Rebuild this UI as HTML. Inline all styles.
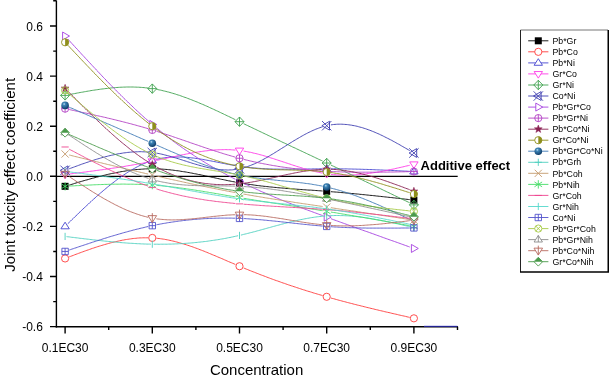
<!DOCTYPE html>
<html><head><meta charset="utf-8"><title>Joint toxicity effect coefficient</title>
<style>
html,body{margin:0;padding:0;background:#fff;}
body{width:609px;height:376px;overflow:hidden;}
svg{display:block;}
text{font-family:"Liberation Sans",Arial,sans-serif;fill:#000;}
</style></head><body>
<svg width="609" height="376" viewBox="0 0 609 376">
<defs><radialGradient id="sph" cx="0.38" cy="0.32" r="0.7"><stop offset="0" stop-color="#c8e4f4"/><stop offset="0.25" stop-color="#3f86b8"/><stop offset="1" stop-color="#0d3a66"/></radialGradient></defs>
<rect width="609" height="376" fill="#fff"/>

<g stroke="#000" stroke-width="1.4" fill="none">
<path d="M56.4 0.5V327.4"/>
<path d="M55.7 326.7H457.9"/>
<path d="M56.4 0.8H53.2M56.4 26.0H50.0M56.4 51.1H53.2M56.4 76.1H50.0M56.4 101.2H53.2M56.4 126.2H50.0M56.4 151.3H53.2M56.4 176.3H50.0M56.4 201.4H53.2M56.4 226.4H50.0M56.4 251.5H53.2M56.4 276.5H50.0M56.4 301.6H53.2M56.4 326.6H50.0"/>
<path d="M65.1 326.7V333.5M108.7 326.7V330.1M152.3 326.7V333.5M195.9 326.7V330.1M239.5 326.7V333.5M283.1 326.7V330.1M326.7 326.7V333.5M370.3 326.7V330.1M413.9 326.7V333.5M457.5 326.7V330.1"/>
</g>
<g font-size="12px" text-anchor="end">
<text x="42.9" y="30.5">0.6</text>
<text x="42.9" y="80.6">0.4</text>
<text x="42.9" y="130.7">0.2</text>
<text x="42.9" y="180.8">0.0</text>
<text x="42.9" y="230.9">-0.2</text>
<text x="42.9" y="281.0">-0.4</text>
<text x="42.9" y="331.1">-0.6</text>
</g>
<g font-size="12px" text-anchor="middle">
<text x="65.1" y="351.6">0.1EC30</text>
<text x="152.3" y="351.6">0.3EC30</text>
<text x="239.5" y="351.6">0.5EC30</text>
<text x="326.7" y="351.6">0.7EC30</text>
<text x="413.9" y="351.6">0.9EC30</text>
</g>
<text font-size="15px" text-anchor="middle" x="256.6" y="375">Concentration</text>
<text font-size="15px" text-anchor="middle" transform="translate(15.4,174.8) rotate(-90)">Joint toxicity effect coefficient</text>
<path d="M56.4 176.3H457.7" stroke="#000" stroke-width="1.3"/>
<g><path d="M69.2 185.1L70.5 184.7L71.9 184.3L73.3 183.9L74.6 183.4L76.0 183.0L77.4 182.6L78.7 182.2L80.1 181.8L81.4 181.4L82.8 181.0L84.2 180.6L85.5 180.2L86.9 179.9L88.3 179.5L89.6 179.1L91.0 178.7L92.3 178.3L93.7 178.0L95.1 177.6L96.4 177.2L97.8 176.9L99.2 176.5L100.5 176.2L101.9 175.9L103.2 175.5L104.6 175.2L106.0 174.9L107.3 174.5L108.7 174.2L110.1 173.9L111.4 173.6L112.8 173.3L114.2 173.1L115.5 172.8L116.9 172.5L118.2 172.2L119.6 172.0L121.0 171.7L122.3 171.5L123.7 171.3L125.1 171.1L126.4 170.8L127.8 170.6L129.1 170.4L130.5 170.3L131.9 170.1L133.2 169.9L134.6 169.8L135.9 169.6L137.3 169.5L138.7 169.4L140.0 169.3L141.4 169.2L142.8 169.1L144.1 169.0L145.5 168.9L146.9 168.9L148.2 168.8M156.4 168.9L157.8 168.9L159.1 169.0L160.5 169.0L161.8 169.1L163.2 169.2L164.6 169.3L165.9 169.4L167.3 169.5L168.7 169.7L170.0 169.8L171.4 170.0L172.7 170.1L174.1 170.3L175.5 170.5L176.8 170.7L178.2 170.8L179.6 171.0L180.9 171.3L182.3 171.5L183.6 171.7L185.0 171.9L186.4 172.1L187.7 172.4L189.1 172.6L190.4 172.9L191.8 173.1L193.2 173.4L194.5 173.7L195.9 173.9L197.3 174.2L198.6 174.5L200.0 174.7L201.4 175.0L202.7 175.3L204.1 175.6L205.4 175.9L206.8 176.2L208.2 176.5L209.5 176.7L210.9 177.0L212.2 177.3L213.6 177.6L215.0 177.9L216.3 178.2L217.7 178.5L219.1 178.8L220.4 179.1L221.8 179.4L223.2 179.6L224.5 179.9L225.9 180.2L227.2 180.5L228.6 180.8L230.0 181.0L231.3 181.3L232.7 181.6L234.1 181.8L235.4 182.1M243.6 183.5L244.9 183.7L246.3 183.9L247.7 184.1L249.0 184.3L250.4 184.5L251.8 184.7L253.1 184.9L254.5 185.1L255.9 185.3L257.2 185.5L258.6 185.6L259.9 185.8L261.3 186.0L262.7 186.1L264.0 186.3L265.4 186.4L266.8 186.6L268.1 186.7L269.5 186.9L270.8 187.0L272.2 187.1L273.6 187.3L274.9 187.4L276.3 187.5L277.7 187.7L279.0 187.8L280.4 187.9L281.7 188.0L283.1 188.1L284.5 188.2L285.8 188.4L287.2 188.5L288.6 188.6L289.9 188.7L291.3 188.8L292.6 188.9L294.0 189.0L295.4 189.1L296.7 189.2L298.1 189.3L299.5 189.4L300.8 189.5L302.2 189.6L303.5 189.7L304.9 189.8L306.3 189.9L307.6 190.0L309.0 190.1L310.4 190.1L311.7 190.2L313.1 190.3L314.4 190.4L315.8 190.5L317.2 190.6L318.5 190.7L319.9 190.8L321.3 190.9L322.6 191.0M330.9 191.7L332.2 191.8L333.6 191.9L335.0 192.0L336.4 192.1L337.8 192.2L339.2 192.3L340.5 192.5L341.9 192.6L343.3 192.7L344.7 192.8L346.1 193.0L347.5 193.1L348.8 193.2L350.2 193.3L351.6 193.5L353.0 193.6L354.4 193.7L355.8 193.9L357.2 194.0L358.5 194.1L359.9 194.3L361.3 194.4L362.7 194.6L364.1 194.7L365.5 194.8L366.8 195.0L368.2 195.1L369.6 195.3L371.0 195.4L372.4 195.5L373.8 195.7L375.1 195.8L376.5 196.0L377.9 196.1L379.3 196.3L380.7 196.4L382.1 196.6L383.4 196.7L384.8 196.9L386.2 197.0L387.6 197.2L389.0 197.3L390.4 197.5L391.8 197.6L393.1 197.8L394.5 197.9L395.9 198.1L397.3 198.2L398.7 198.4L400.1 198.5L401.4 198.7L402.8 198.9L404.2 199.0L405.6 199.2L407.0 199.3L408.4 199.5L409.7 199.6" stroke="#000000" stroke-width="0.9" fill="none"/>
<rect transform="translate(65.1,186.32)" x="-3.5" y="-3.5" width="7" height="7" fill="#000000"/>
<rect transform="translate(152.3,168.79)" x="-3.5" y="-3.5" width="7" height="7" fill="#000000"/>
<rect transform="translate(239.5,182.81)" x="-3.5" y="-3.5" width="7" height="7" fill="#000000"/>
<rect transform="translate(326.7,191.33)" x="-3.5" y="-3.5" width="7" height="7" fill="#000000"/>
<rect transform="translate(413.9,200.1)" x="-3.5" y="-3.5" width="7" height="7" fill="#000000"/>
</g>
<g><path d="M69.2 256.9L70.5 256.4L71.9 255.9L73.3 255.4L74.6 254.8L76.0 254.3L77.4 253.8L78.7 253.3L80.1 252.8L81.4 252.3L82.8 251.8L84.2 251.3L85.5 250.8L86.9 250.3L88.3 249.9L89.6 249.4L91.0 248.9L92.3 248.4L93.7 248.0L95.1 247.5L96.4 247.1L97.8 246.6L99.2 246.2L100.5 245.8L101.9 245.4L103.2 245.0L104.6 244.6L106.0 244.2L107.3 243.8L108.7 243.4L110.1 243.0L111.4 242.7L112.8 242.3L114.2 242.0L115.5 241.7L116.9 241.4L118.2 241.1L119.6 240.8L121.0 240.5L122.3 240.2L123.7 240.0L125.1 239.7L126.4 239.5L127.8 239.3L129.1 239.1L130.5 238.9L131.9 238.7L133.2 238.5L134.6 238.4L135.9 238.3L137.3 238.1L138.7 238.0L140.0 237.9L141.4 237.9L142.8 237.8L144.1 237.8L145.5 237.8L146.9 237.8L148.2 237.8M156.4 238.2L157.8 238.4L159.1 238.5L160.5 238.7L161.8 238.9L163.2 239.1L164.6 239.3L165.9 239.6L167.3 239.8L168.7 240.1L170.0 240.4L171.4 240.7L172.7 241.0L174.1 241.3L175.5 241.7L176.8 242.0L178.2 242.4L179.6 242.8L180.9 243.2L182.3 243.6L183.6 244.0L185.0 244.4L186.4 244.8L187.7 245.3L189.1 245.7L190.4 246.2L191.8 246.6L193.2 247.1L194.5 247.6L195.9 248.1L197.3 248.6L198.6 249.1L200.0 249.7L201.4 250.2L202.7 250.7L204.1 251.2L205.4 251.8L206.8 252.3L208.2 252.9L209.5 253.5L210.9 254.0L212.2 254.6L213.6 255.2L215.0 255.7L216.3 256.3L217.7 256.9L219.1 257.5L220.4 258.0L221.8 258.6L223.2 259.2L224.5 259.8L225.9 260.4L227.2 261.0L228.6 261.6L230.0 262.2L231.3 262.7L232.7 263.3L234.1 263.9L235.4 264.5M243.6 267.9L244.9 268.5L246.3 269.1L247.7 269.6L249.0 270.2L250.4 270.7L251.8 271.3L253.1 271.8L254.5 272.3L255.9 272.9L257.2 273.4L258.6 273.9L259.9 274.5L261.3 275.0L262.7 275.5L264.0 276.0L265.4 276.5L266.8 277.1L268.1 277.6L269.5 278.1L270.8 278.6L272.2 279.1L273.6 279.6L274.9 280.1L276.3 280.6L277.7 281.0L279.0 281.5L280.4 282.0L281.7 282.5L283.1 283.0L284.5 283.4L285.8 283.9L287.2 284.4L288.6 284.9L289.9 285.3L291.3 285.8L292.6 286.2L294.0 286.7L295.4 287.1L296.7 287.6L298.1 288.0L299.5 288.5L300.8 288.9L302.2 289.4L303.5 289.8L304.9 290.2L306.3 290.7L307.6 291.1L309.0 291.5L310.4 291.9L311.7 292.3L313.1 292.8L314.4 293.2L315.8 293.6L317.2 294.0L318.5 294.4L319.9 294.8L321.3 295.2L322.6 295.6M330.9 298.0L332.2 298.4L333.6 298.7L335.0 299.1L336.4 299.5L337.8 299.9L339.2 300.3L340.5 300.6L341.9 301.0L343.3 301.4L344.7 301.7L346.1 302.1L347.5 302.5L348.8 302.8L350.2 303.2L351.6 303.5L353.0 303.9L354.4 304.3L355.8 304.6L357.2 305.0L358.5 305.3L359.9 305.6L361.3 306.0L362.7 306.3L364.1 306.7L365.5 307.0L366.8 307.4L368.2 307.7L369.6 308.0L371.0 308.4L372.4 308.7L373.8 309.0L375.1 309.4L376.5 309.7L377.9 310.0L379.3 310.4L380.7 310.7L382.1 311.0L383.4 311.3L384.8 311.7L386.2 312.0L387.6 312.3L389.0 312.6L390.4 312.9L391.8 313.3L393.1 313.6L394.5 313.9L395.9 314.2L397.3 314.5L398.7 314.9L400.1 315.2L401.4 315.5L402.8 315.8L404.2 316.1L405.6 316.4L407.0 316.8L408.4 317.1L409.7 317.4" stroke="#ff3b3b" stroke-width="0.9" fill="none"/>
<circle transform="translate(65.1,258.46)" r="3.6" stroke="#ff3b3b" stroke-width="0.9" fill="none"/>
<circle transform="translate(152.3,237.92)" r="3.6" stroke="#ff3b3b" stroke-width="0.9" fill="none"/>
<circle transform="translate(239.5,266.23)" r="3.6" stroke="#ff3b3b" stroke-width="0.9" fill="none"/>
<circle transform="translate(326.7,296.79)" r="3.6" stroke="#ff3b3b" stroke-width="0.9" fill="none"/>
<circle transform="translate(413.9,318.33)" r="3.6" stroke="#ff3b3b" stroke-width="0.9" fill="none"/>
</g>
<g><path d="M67.8 223.7L69.2 222.4L70.5 221.1L71.9 219.7L73.3 218.4L74.6 217.1L76.0 215.8L77.4 214.5L78.7 213.1L80.1 211.8L81.4 210.5L82.8 209.2L84.2 207.9L85.5 206.7L86.9 205.4L88.3 204.1L89.6 202.8L91.0 201.6L92.3 200.3L93.7 199.1L95.1 197.9L96.4 196.6L97.8 195.4L99.2 194.2L100.5 193.0L101.9 191.9L103.2 190.7L104.6 189.6L106.0 188.4L107.3 187.3L108.7 186.2L110.1 185.1L111.4 184.0L112.8 182.9L114.2 181.9L115.5 180.8L116.9 179.8L118.2 178.8L119.6 177.8L121.0 176.9L122.3 175.9L123.7 175.0L125.1 174.1L126.4 173.2L127.8 172.3L129.1 171.4L130.5 170.6L131.9 169.8L133.2 169.0L134.6 168.3L135.9 167.5L137.3 166.8L138.7 166.1L140.0 165.4L141.4 164.8L142.8 164.1L144.1 163.5L145.5 163.0L146.9 162.4L148.2 161.9M156.4 159.4L157.8 159.1L159.1 158.8L160.5 158.5L161.8 158.2L163.2 158.0L164.6 157.8L165.9 157.6L167.3 157.5L168.7 157.3L170.0 157.2L171.4 157.1L172.7 157.1L174.1 157.0L175.5 157.0L176.8 157.0L178.2 157.0L179.6 157.0L180.9 157.0L182.3 157.1L183.6 157.1L185.0 157.2L186.4 157.3L187.7 157.4L189.1 157.6L190.4 157.7L191.8 157.9L193.2 158.0L194.5 158.2L195.9 158.4L197.3 158.6L198.6 158.8L200.0 159.0L201.4 159.2L202.7 159.4L204.1 159.7L205.4 159.9L206.8 160.2L208.2 160.4L209.5 160.7L210.9 160.9L212.2 161.2L213.6 161.5L215.0 161.7L216.3 162.0L217.7 162.3L219.1 162.5L220.4 162.8L221.8 163.1L223.2 163.4L224.5 163.6L225.9 163.9L227.2 164.2L228.6 164.4L230.0 164.7L231.3 164.9L232.7 165.2L234.1 165.4L235.4 165.6M243.6 166.9L244.9 167.0L246.3 167.2L247.7 167.4L249.0 167.5L250.4 167.6L251.8 167.8L253.1 167.9L254.5 168.0L255.9 168.1L257.2 168.2L258.6 168.3L259.9 168.4L261.3 168.5L262.7 168.6L264.0 168.7L265.4 168.8L266.8 168.8L268.1 168.9L269.5 168.9L270.8 169.0L272.2 169.0L273.6 169.1L274.9 169.1L276.3 169.1L277.7 169.1L279.0 169.2L280.4 169.2L281.7 169.2L283.1 169.2L284.5 169.2L285.8 169.2L287.2 169.2L288.6 169.2L289.9 169.2L291.3 169.2L292.6 169.2L294.0 169.2L295.4 169.2L296.7 169.2L298.1 169.2L299.5 169.1L300.8 169.1L302.2 169.1L303.5 169.1L304.9 169.1L306.3 169.0L307.6 169.0L309.0 169.0L310.4 169.0L311.7 169.0L313.1 168.9L314.4 168.9L315.8 168.9L317.2 168.9L318.5 168.9L319.9 168.8L321.3 168.8L322.6 168.8M330.9 168.8L332.2 168.8L333.6 168.8L335.0 168.8L336.4 168.8L337.8 168.8L339.2 168.8L340.5 168.8L341.9 168.9L343.3 168.9L344.7 168.9L346.1 168.9L347.5 168.9L348.8 169.0L350.2 169.0L351.6 169.0L353.0 169.1L354.4 169.1L355.8 169.1L357.2 169.2L358.5 169.2L359.9 169.2L361.3 169.3L362.7 169.3L364.1 169.4L365.5 169.4L366.8 169.4L368.2 169.5L369.6 169.5L371.0 169.6L372.4 169.6L373.8 169.7L375.1 169.8L376.5 169.8L377.9 169.9L379.3 169.9L380.7 170.0L382.1 170.0L383.4 170.1L384.8 170.2L386.2 170.2L387.6 170.3L389.0 170.3L390.4 170.4L391.8 170.5L393.1 170.5L394.5 170.6L395.9 170.7L397.3 170.7L398.7 170.8L400.1 170.9L401.4 170.9L402.8 171.0L404.2 171.1L405.6 171.1L407.0 171.2L408.4 171.3L409.7 171.3" stroke="#4545d0" stroke-width="0.9" fill="none"/>
<path transform="translate(65.1,226.4)" d="M0-4.2L4.2 2.4H-4.2Z" stroke="#4545d0" stroke-width="0.9" fill="none"/>
<path transform="translate(152.3,160.52)" d="M0-4.2L4.2 2.4H-4.2Z" stroke="#4545d0" stroke-width="0.9" fill="none"/>
<path transform="translate(239.5,166.28)" d="M0-4.2L4.2 2.4H-4.2Z" stroke="#4545d0" stroke-width="0.9" fill="none"/>
<path transform="translate(326.7,168.79)" d="M0-4.2L4.2 2.4H-4.2Z" stroke="#4545d0" stroke-width="0.9" fill="none"/>
<path transform="translate(413.9,171.54)" d="M0-4.2L4.2 2.4H-4.2Z" stroke="#4545d0" stroke-width="0.9" fill="none"/>
</g>
<g><path d="M69.2 174.0L70.5 173.9L71.9 173.7L73.3 173.5L74.6 173.3L76.0 173.2L77.4 173.0L78.7 172.8L80.1 172.7L81.4 172.5L82.8 172.3L84.2 172.1L85.5 172.0L86.9 171.8L88.3 171.6L89.6 171.4L91.0 171.2L92.3 171.1L93.7 170.9L95.1 170.7L96.4 170.5L97.8 170.3L99.2 170.1L100.5 169.9L101.9 169.8L103.2 169.6L104.6 169.4L106.0 169.2L107.3 169.0L108.7 168.8L110.1 168.6L111.4 168.4L112.8 168.2L114.2 168.0L115.5 167.8L116.9 167.6L118.2 167.4L119.6 167.1L121.0 166.9L122.3 166.7L123.7 166.5L125.1 166.3L126.4 166.0L127.8 165.8L129.1 165.6L130.5 165.4L131.9 165.1L133.2 164.9L134.6 164.6L135.9 164.4L137.3 164.2L138.7 163.9L140.0 163.7L141.4 163.4L142.8 163.2L144.1 162.9L145.5 162.6L146.9 162.4L148.2 162.1M156.4 160.4L157.8 160.1L159.1 159.8L160.5 159.5L161.8 159.2L163.2 158.9L164.6 158.6L165.9 158.3L167.3 158.0L168.7 157.7L170.0 157.4L171.4 157.2L172.7 156.9L174.1 156.6L175.5 156.3L176.8 156.0L178.2 155.7L179.6 155.4L180.9 155.1L182.3 154.8L183.6 154.6L185.0 154.3L186.4 154.0L187.7 153.8L189.1 153.5L190.4 153.3L191.8 153.0L193.2 152.8L194.5 152.5L195.9 152.3L197.3 152.1L198.6 151.9L200.0 151.7L201.4 151.5L202.7 151.3L204.1 151.1L205.4 150.9L206.8 150.8L208.2 150.6L209.5 150.5L210.9 150.3L212.2 150.2L213.6 150.1L215.0 150.0L216.3 149.9L217.7 149.8L219.1 149.8L220.4 149.7L221.8 149.7L223.2 149.7L224.5 149.6L225.9 149.6L227.2 149.7L228.6 149.7L230.0 149.7L231.3 149.8L232.7 149.9L234.1 150.0L235.4 150.1M243.6 151.1L244.9 151.3L246.3 151.5L247.7 151.8L249.0 152.1L250.4 152.3L251.8 152.6L253.1 153.0L254.5 153.3L255.9 153.6L257.2 153.9L258.6 154.3L259.9 154.7L261.3 155.0L262.7 155.4L264.0 155.8L265.4 156.2L266.8 156.6L268.1 157.0L269.5 157.4L270.8 157.9L272.2 158.3L273.6 158.7L274.9 159.2L276.3 159.6L277.7 160.1L279.0 160.5L280.4 161.0L281.7 161.4L283.1 161.9L284.5 162.3L285.8 162.8L287.2 163.2L288.6 163.7L289.9 164.1L291.3 164.6L292.6 165.0L294.0 165.5L295.4 165.9L296.7 166.4L298.1 166.8L299.5 167.2L300.8 167.6L302.2 168.0L303.5 168.5L304.9 168.9L306.3 169.2L307.6 169.6L309.0 170.0L310.4 170.4L311.7 170.7L313.1 171.1L314.4 171.4L315.8 171.7L317.2 172.0L318.5 172.3L319.9 172.6L321.3 172.9L322.6 173.1M330.9 174.3L332.2 174.5L333.6 174.6L335.0 174.7L336.4 174.8L337.8 174.9L339.2 175.0L340.5 175.0L341.9 175.1L343.3 175.1L344.7 175.1L346.1 175.1L347.5 175.1L348.8 175.1L350.2 175.0L351.6 175.0L353.0 174.9L354.4 174.8L355.8 174.8L357.2 174.7L358.5 174.6L359.9 174.4L361.3 174.3L362.7 174.2L364.1 174.0L365.5 173.9L366.8 173.7L368.2 173.5L369.6 173.3L371.0 173.1L372.4 172.9L373.8 172.7L375.1 172.5L376.5 172.3L377.9 172.0L379.3 171.8L380.7 171.5L382.1 171.3L383.4 171.0L384.8 170.8L386.2 170.5L387.6 170.2L389.0 169.9L390.4 169.6L391.8 169.3L393.1 169.1L394.5 168.8L395.9 168.4L397.3 168.1L398.7 167.8L400.1 167.5L401.4 167.2L402.8 166.9L404.2 166.6L405.6 166.2L407.0 165.9L408.4 165.6L409.7 165.3" stroke="#ff38e8" stroke-width="0.9" fill="none"/>
<path transform="translate(65.1,174.55)" d="M0 4.2L4.2-2.4H-4.2Z" stroke="#ff38e8" stroke-width="0.9" fill="none"/>
<path transform="translate(152.3,161.27)" d="M0 4.2L4.2-2.4H-4.2Z" stroke="#ff38e8" stroke-width="0.9" fill="none"/>
<path transform="translate(239.5,150.5)" d="M0 4.2L4.2-2.4H-4.2Z" stroke="#ff38e8" stroke-width="0.9" fill="none"/>
<path transform="translate(326.7,173.8)" d="M0 4.2L4.2-2.4H-4.2Z" stroke="#ff38e8" stroke-width="0.9" fill="none"/>
<path transform="translate(413.9,164.28)" d="M0 4.2L4.2-2.4H-4.2Z" stroke="#ff38e8" stroke-width="0.9" fill="none"/>
</g>
<g><path d="M69.2 94.6L70.5 94.3L71.9 94.1L73.3 93.8L74.6 93.6L76.0 93.3L77.4 93.0L78.7 92.8L80.1 92.5L81.4 92.3L82.8 92.1L84.2 91.8L85.5 91.6L86.9 91.3L88.3 91.1L89.6 90.9L91.0 90.6L92.3 90.4L93.7 90.2L95.1 90.0L96.4 89.8L97.8 89.6L99.2 89.4L100.5 89.2L101.9 89.0L103.2 88.9L104.6 88.7L106.0 88.5L107.3 88.4L108.7 88.2L110.1 88.1L111.4 87.9L112.8 87.8L114.2 87.7L115.5 87.6L116.9 87.5L118.2 87.4L119.6 87.3L121.0 87.2L122.3 87.2L123.7 87.1L125.1 87.1L126.4 87.0L127.8 87.0L129.1 87.0L130.5 87.0L131.9 87.0L133.2 87.0L134.6 87.1L135.9 87.1L137.3 87.2L138.7 87.2L140.0 87.3L141.4 87.4L142.8 87.5L144.1 87.6L145.5 87.8L146.9 87.9L148.2 88.1M156.4 89.3L157.8 89.6L159.1 89.9L160.5 90.1L161.8 90.4L163.2 90.8L164.6 91.1L165.9 91.4L167.3 91.8L168.7 92.1L170.0 92.5L171.4 92.9L172.7 93.3L174.1 93.7L175.5 94.1L176.8 94.6L178.2 95.0L179.6 95.4L180.9 95.9L182.3 96.4L183.6 96.9L185.0 97.4L186.4 97.8L187.7 98.4L189.1 98.9L190.4 99.4L191.8 99.9L193.2 100.5L194.5 101.0L195.9 101.6L197.3 102.1L198.6 102.7L200.0 103.3L201.4 103.9L202.7 104.4L204.1 105.0L205.4 105.6L206.8 106.2L208.2 106.8L209.5 107.5L210.9 108.1L212.2 108.7L213.6 109.3L215.0 110.0L216.3 110.6L217.7 111.2L219.1 111.9L220.4 112.5L221.8 113.2L223.2 113.8L224.5 114.5L225.9 115.1L227.2 115.8L228.6 116.4L230.0 117.1L231.3 117.7L232.7 118.4L234.1 119.1L235.4 119.7M243.6 123.7L244.9 124.3L246.3 125.0L247.7 125.6L249.0 126.3L250.4 126.9L251.8 127.6L253.1 128.2L254.5 128.9L255.9 129.5L257.2 130.2L258.6 130.8L259.9 131.5L261.3 132.1L262.7 132.8L264.0 133.4L265.4 134.1L266.8 134.7L268.1 135.4L269.5 136.0L270.8 136.7L272.2 137.3L273.6 138.0L274.9 138.6L276.3 139.2L277.7 139.9L279.0 140.5L280.4 141.2L281.7 141.8L283.1 142.5L284.5 143.1L285.8 143.7L287.2 144.4L288.6 145.0L289.9 145.7L291.3 146.3L292.6 147.0L294.0 147.6L295.4 148.2L296.7 148.9L298.1 149.5L299.5 150.2L300.8 150.8L302.2 151.4L303.5 152.1L304.9 152.7L306.3 153.4L307.6 154.0L309.0 154.7L310.4 155.3L311.7 155.9L313.1 156.6L314.4 157.2L315.8 157.9L317.2 158.5L318.5 159.2L319.9 159.8L321.3 160.4L322.6 161.1M330.9 165.0L332.2 165.7L333.6 166.3L335.0 167.0L336.4 167.6L337.8 168.3L339.2 168.9L340.5 169.6L341.9 170.3L343.3 170.9L344.7 171.6L346.1 172.2L347.5 172.9L348.8 173.6L350.2 174.2L351.6 174.9L353.0 175.5L354.4 176.2L355.8 176.9L357.2 177.5L358.5 178.2L359.9 178.9L361.3 179.5L362.7 180.2L364.1 180.9L365.5 181.5L366.8 182.2L368.2 182.8L369.6 183.5L371.0 184.2L372.4 184.8L373.8 185.5L375.1 186.2L376.5 186.8L377.9 187.5L379.3 188.2L380.7 188.8L382.1 189.5L383.4 190.2L384.8 190.8L386.2 191.5L387.6 192.2L389.0 192.8L390.4 193.5L391.8 194.2L393.1 194.8L394.5 195.5L395.9 196.2L397.3 196.8L398.7 197.5L400.1 198.2L401.4 198.8L402.8 199.5L404.2 200.2L405.6 200.8L407.0 201.5L408.4 202.2L409.7 202.9" stroke="#3fa24f" stroke-width="0.9" fill="none"/>
<path transform="translate(65.1,95.39)" d="M0-4.7L4.5 0L0 4.7L-4.5 0ZM0-4.7V4.7M-4.5 0H4.5" stroke="#3fa24f" stroke-width="0.9" fill="none"/>
<path transform="translate(152.3,88.63)" d="M0-4.7L4.5 0L0 4.7L-4.5 0ZM0-4.7V4.7M-4.5 0H4.5" stroke="#3fa24f" stroke-width="0.9" fill="none"/>
<path transform="translate(239.5,121.69)" d="M0-4.7L4.5 0L0 4.7L-4.5 0ZM0-4.7V4.7M-4.5 0H4.5" stroke="#3fa24f" stroke-width="0.9" fill="none"/>
<path transform="translate(326.7,163.02)" d="M0-4.7L4.5 0L0 4.7L-4.5 0ZM0-4.7V4.7M-4.5 0H4.5" stroke="#3fa24f" stroke-width="0.9" fill="none"/>
<path transform="translate(413.9,204.86)" d="M0-4.7L4.5 0L0 4.7L-4.5 0ZM0-4.7V4.7M-4.5 0H4.5" stroke="#3fa24f" stroke-width="0.9" fill="none"/>
</g>
<g><path d="M69.2 168.8L70.5 168.3L71.9 167.8L73.3 167.3L74.6 166.8L76.0 166.3L77.4 165.8L78.7 165.3L80.1 164.8L81.4 164.3L82.8 163.8L84.2 163.4L85.5 162.9L86.9 162.4L88.3 162.0L89.6 161.5L91.0 161.0L92.3 160.6L93.7 160.2L95.1 159.7L96.4 159.3L97.8 158.9L99.2 158.5L100.5 158.1L101.9 157.7L103.2 157.3L104.6 157.0L106.0 156.6L107.3 156.3L108.7 155.9L110.1 155.6L111.4 155.3L112.8 155.0L114.2 154.7L115.5 154.4L116.9 154.1L118.2 153.8L119.6 153.6L121.0 153.4L122.3 153.2L123.7 152.9L125.1 152.8L126.4 152.6L127.8 152.4L129.1 152.3L130.5 152.2L131.9 152.0L133.2 151.9L134.6 151.9L135.9 151.8L137.3 151.8L138.7 151.7L140.0 151.7L141.4 151.7L142.8 151.8L144.1 151.8L145.5 151.9L146.9 152.0L148.2 152.1M156.4 153.1L157.8 153.4L159.1 153.6L160.5 153.9L161.8 154.2L163.2 154.5L164.6 154.9L165.9 155.2L167.3 155.6L168.7 155.9L170.0 156.3L171.4 156.7L172.7 157.1L174.1 157.5L175.5 157.9L176.8 158.3L178.2 158.7L179.6 159.2L180.9 159.6L182.3 160.0L183.6 160.5L185.0 160.9L186.4 161.3L187.7 161.8L189.1 162.2L190.4 162.6L191.8 163.1L193.2 163.5L194.5 163.9L195.9 164.3L197.3 164.7L198.6 165.1L200.0 165.5L201.4 165.9L202.7 166.2L204.1 166.6L205.4 166.9L206.8 167.3L208.2 167.6L209.5 167.9L210.9 168.2L212.2 168.4L213.6 168.7L215.0 168.9L216.3 169.1L217.7 169.3L219.1 169.5L220.4 169.6L221.8 169.7L223.2 169.8L224.5 169.9L225.9 169.9L227.2 170.0L228.6 170.0L230.0 169.9L231.3 169.9L232.7 169.8L234.1 169.6L235.4 169.5M243.6 167.8L244.9 167.4L246.3 167.0L247.7 166.5L249.0 166.0L250.4 165.5L251.8 164.9L253.1 164.4L254.5 163.8L255.9 163.2L257.2 162.5L258.6 161.9L259.9 161.2L261.3 160.5L262.7 159.8L264.0 159.0L265.4 158.3L266.8 157.5L268.1 156.7L269.5 155.9L270.8 155.1L272.2 154.3L273.6 153.5L274.9 152.6L276.3 151.8L277.7 150.9L279.0 150.1L280.4 149.2L281.7 148.4L283.1 147.5L284.5 146.7L285.8 145.8L287.2 144.9L288.6 144.1L289.9 143.2L291.3 142.4L292.6 141.5L294.0 140.7L295.4 139.9L296.7 139.1L298.1 138.3L299.5 137.5L300.8 136.7L302.2 135.9L303.5 135.2L304.9 134.4L306.3 133.7L307.6 133.0L309.0 132.3L310.4 131.7L311.7 131.0L313.1 130.4L314.4 129.8L315.8 129.2L317.2 128.7L318.5 128.2L319.9 127.7L321.3 127.2L322.6 126.8M330.9 124.9L332.2 124.7L333.6 124.5L335.0 124.4L336.4 124.3L337.8 124.2L339.2 124.2L340.5 124.2L341.9 124.2L343.3 124.3L344.7 124.4L346.1 124.5L347.5 124.6L348.8 124.8L350.2 125.0L351.6 125.2L353.0 125.5L354.4 125.7L355.8 126.0L357.2 126.3L358.5 126.7L359.9 127.1L361.3 127.4L362.7 127.8L364.1 128.3L365.5 128.7L366.8 129.2L368.2 129.7L369.6 130.2L371.0 130.7L372.4 131.3L373.8 131.8L375.1 132.4L376.5 133.0L377.9 133.6L379.3 134.2L380.7 134.9L382.1 135.5L383.4 136.2L384.8 136.9L386.2 137.6L387.6 138.3L389.0 139.0L390.4 139.7L391.8 140.4L393.1 141.2L394.5 141.9L395.9 142.7L397.3 143.5L398.7 144.2L400.1 145.0L401.4 145.8L402.8 146.6L404.2 147.4L405.6 148.2L407.0 149.0L408.4 149.8L409.7 150.6" stroke="#3d3db0" stroke-width="0.9" fill="none"/>
<path transform="translate(65.1,170.29)" d="M-4.7-4.7L4.7 4.7M-4.7 4.7L4.7-4.7M2.8-4.4V4.4L-4.8 0Z" stroke="#3d3db0" stroke-width="0.9" fill="none"/>
<path transform="translate(152.3,152.5)" d="M-4.7-4.7L4.7 4.7M-4.7 4.7L4.7-4.7M2.8-4.4V4.4L-4.8 0Z" stroke="#3d3db0" stroke-width="0.9" fill="none"/>
<path transform="translate(239.5,168.79)" d="M-4.7-4.7L4.7 4.7M-4.7 4.7L4.7-4.7M2.8-4.4V4.4L-4.8 0Z" stroke="#3d3db0" stroke-width="0.9" fill="none"/>
<path transform="translate(326.7,125.7)" d="M-4.7-4.7L4.7 4.7M-4.7 4.7L4.7-4.7M2.8-4.4V4.4L-4.8 0Z" stroke="#3d3db0" stroke-width="0.9" fill="none"/>
<path transform="translate(413.9,153)" d="M-4.7-4.7L4.7 4.7M-4.7 4.7L4.7-4.7M2.8-4.4V4.4L-4.8 0Z" stroke="#3d3db0" stroke-width="0.9" fill="none"/>
</g>
<g><path d="M67.8 39.0L69.2 40.5L70.5 42.0L71.9 43.5L73.3 45.0L74.6 46.5L76.0 47.9L77.4 49.4L78.7 50.9L80.1 52.4L81.4 53.9L82.8 55.4L84.2 56.8L85.5 58.3L86.9 59.8L88.3 61.2L89.6 62.7L91.0 64.2L92.3 65.6L93.7 67.1L95.1 68.5L96.4 70.0L97.8 71.4L99.2 72.9L100.5 74.3L101.9 75.8L103.2 77.2L104.6 78.6L106.0 80.0L107.3 81.5L108.7 82.9L110.1 84.3L111.4 85.7L112.8 87.1L114.2 88.5L115.5 89.8L116.9 91.2L118.2 92.6L119.6 94.0L121.0 95.3L122.3 96.7L123.7 98.0L125.1 99.4L126.4 100.7L127.8 102.0L129.1 103.3L130.5 104.6L131.9 105.9L133.2 107.2L134.6 108.5L135.9 109.8L137.3 111.1L138.7 112.3L140.0 113.6L141.4 114.8L142.8 116.1L144.1 117.3L145.5 118.5L146.9 119.7L148.2 120.9L149.6 122.1M155.0 126.7L156.4 127.9L157.8 129.0L159.1 130.1L160.5 131.2L161.8 132.3L163.2 133.4L164.6 134.5L165.9 135.6L167.3 136.6L168.7 137.7L170.0 138.7L171.4 139.7L172.7 140.8L174.1 141.8L175.5 142.8L176.8 143.8L178.2 144.8L179.6 145.7L180.9 146.7L182.3 147.7L183.6 148.6L185.0 149.6L186.4 150.5L187.7 151.4L189.1 152.3L190.4 153.2L191.8 154.1L193.2 155.0L194.5 155.9L195.9 156.8L197.3 157.7L198.6 158.5L200.0 159.4L201.4 160.2L202.7 161.1L204.1 161.9L205.4 162.7L206.8 163.6L208.2 164.4L209.5 165.2L210.9 166.0L212.2 166.8L213.6 167.6L215.0 168.3L216.3 169.1L217.7 169.9L219.1 170.6L220.4 171.4L221.8 172.1L223.2 172.9L224.5 173.6L225.9 174.3L227.2 175.1L228.6 175.8L230.0 176.5L231.3 177.2L232.7 177.9L234.1 178.6L235.4 179.3M243.6 183.3L244.9 184.0L246.3 184.6L247.7 185.2L249.0 185.9L250.4 186.5L251.8 187.2L253.1 187.8L254.5 188.4L255.9 189.0L257.2 189.6L258.6 190.2L259.9 190.9L261.3 191.5L262.7 192.1L264.0 192.6L265.4 193.2L266.8 193.8L268.1 194.4L269.5 195.0L270.8 195.6L272.2 196.1L273.6 196.7L274.9 197.3L276.3 197.8L277.7 198.4L279.0 199.0L280.4 199.5L281.7 200.1L283.1 200.6L284.5 201.2L285.8 201.7L287.2 202.2L288.6 202.8L289.9 203.3L291.3 203.8L292.6 204.4L294.0 204.9L295.4 205.4L296.7 206.0L298.1 206.5L299.5 207.0L300.8 207.5L302.2 208.0L303.5 208.6L304.9 209.1L306.3 209.6L307.6 210.1L309.0 210.6L310.4 211.1L311.7 211.6L313.1 212.1L314.4 212.6L315.8 213.1L317.2 213.6L318.5 214.1L319.9 214.6L321.3 215.1L322.6 215.6M330.9 218.6L332.2 219.2L333.6 219.7L335.0 220.2L336.4 220.7L337.8 221.2L339.2 221.7L340.5 222.2L341.9 222.7L343.3 223.2L344.7 223.7L346.1 224.2L347.5 224.7L348.8 225.2L350.2 225.7L351.6 226.2L353.0 226.7L354.4 227.2L355.8 227.7L357.2 228.2L358.5 228.7L359.9 229.2L361.3 229.7L362.7 230.2L364.1 230.7L365.5 231.2L366.8 231.6L368.2 232.1L369.6 232.6L371.0 233.1L372.4 233.6L373.8 234.1L375.1 234.6L376.5 235.1L377.9 235.6L379.3 236.1L380.7 236.6L382.1 237.1L383.4 237.6L384.8 238.1L386.2 238.6L387.6 239.1L389.0 239.6L390.4 240.1L391.8 240.6L393.1 241.0L394.5 241.5L395.9 242.0L397.3 242.5L398.7 243.0L400.1 243.5L401.4 244.0L402.8 244.5L404.2 245.0L405.6 245.5L407.0 246.0L408.4 246.5L409.7 247.0" stroke="#a53fe0" stroke-width="0.9" fill="none"/>
<path transform="translate(65.1,36.02)" d="M4.4 0L-2.5-4V4Z" stroke="#a53fe0" stroke-width="0.9" fill="none"/>
<path transform="translate(152.3,124.45)" d="M4.4 0L-2.5-4V4Z" stroke="#a53fe0" stroke-width="0.9" fill="none"/>
<path transform="translate(239.5,181.31)" d="M4.4 0L-2.5-4V4Z" stroke="#a53fe0" stroke-width="0.9" fill="none"/>
<path transform="translate(326.7,217.13)" d="M4.4 0L-2.5-4V4Z" stroke="#a53fe0" stroke-width="0.9" fill="none"/>
<path transform="translate(413.9,248.44)" d="M4.4 0L-2.5-4V4Z" stroke="#a53fe0" stroke-width="0.9" fill="none"/>
</g>
<g><path d="M69.2 109.5L70.5 109.8L71.9 110.1L73.3 110.4L74.6 110.7L76.0 111.0L77.4 111.3L78.7 111.6L80.1 111.9L81.4 112.2L82.8 112.5L84.2 112.8L85.5 113.0L86.9 113.3L88.3 113.6L89.6 113.9L91.0 114.2L92.3 114.5L93.7 114.8L95.1 115.2L96.4 115.5L97.8 115.8L99.2 116.1L100.5 116.4L101.9 116.7L103.2 117.0L104.6 117.3L106.0 117.6L107.3 118.0L108.7 118.3L110.1 118.6L111.4 118.9L112.8 119.3L114.2 119.6L115.5 119.9L116.9 120.3L118.2 120.6L119.6 120.9L121.0 121.3L122.3 121.6L123.7 122.0L125.1 122.3L126.4 122.7L127.8 123.0L129.1 123.4L130.5 123.7L131.9 124.1L133.2 124.5L134.6 124.8L135.9 125.2L137.3 125.6L138.7 126.0L140.0 126.3L141.4 126.7L142.8 127.1L144.1 127.5L145.5 127.9L146.9 128.3L148.2 128.7M156.4 131.2L157.8 131.7L159.1 132.1L160.5 132.5L161.8 133.0L163.2 133.4L164.6 133.9L165.9 134.3L167.3 134.8L168.7 135.2L170.0 135.7L171.4 136.1L172.7 136.6L174.1 137.1L175.5 137.5L176.8 138.0L178.2 138.5L179.6 138.9L180.9 139.4L182.3 139.9L183.6 140.3L185.0 140.8L186.4 141.3L187.7 141.7L189.1 142.2L190.4 142.7L191.8 143.2L193.2 143.6L194.5 144.1L195.9 144.6L197.3 145.0L198.6 145.5L200.0 146.0L201.4 146.4L202.7 146.9L204.1 147.4L205.4 147.8L206.8 148.3L208.2 148.7L209.5 149.2L210.9 149.6L212.2 150.1L213.6 150.5L215.0 151.0L216.3 151.4L217.7 151.8L219.1 152.3L220.4 152.7L221.8 153.1L223.2 153.6L224.5 154.0L225.9 154.4L227.2 154.8L228.6 155.2L230.0 155.6L231.3 156.0L232.7 156.4L234.1 156.8L235.4 157.2M243.6 159.3L244.9 159.7L246.3 160.0L247.7 160.3L249.0 160.7L250.4 161.0L251.8 161.3L253.1 161.6L254.5 161.9L255.9 162.2L257.2 162.5L258.6 162.8L259.9 163.1L261.3 163.3L262.7 163.6L264.0 163.9L265.4 164.1L266.8 164.4L268.1 164.6L269.5 164.9L270.8 165.1L272.2 165.4L273.6 165.6L274.9 165.8L276.3 166.0L277.7 166.3L279.0 166.5L280.4 166.7L281.7 166.9L283.1 167.1L284.5 167.3L285.8 167.5L287.2 167.7L288.6 167.8L289.9 168.0L291.3 168.2L292.6 168.4L294.0 168.5L295.4 168.7L296.7 168.8L298.1 169.0L299.5 169.1L300.8 169.3L302.2 169.4L303.5 169.6L304.9 169.7L306.3 169.8L307.6 169.9L309.0 170.1L310.4 170.2L311.7 170.3L313.1 170.4L314.4 170.5L315.8 170.6L317.2 170.7L318.5 170.8L319.9 170.9L321.3 171.0L322.6 171.1M330.9 171.5L332.2 171.6L333.6 171.6L335.0 171.7L336.4 171.7L337.8 171.8L339.2 171.8L340.5 171.9L341.9 171.9L343.3 172.0L344.7 172.0L346.1 172.0L347.5 172.1L348.8 172.1L350.2 172.1L351.6 172.1L353.0 172.2L354.4 172.2L355.8 172.2L357.2 172.2L358.5 172.2L359.9 172.2L361.3 172.2L362.7 172.2L364.1 172.2L365.5 172.2L366.8 172.2L368.2 172.2L369.6 172.2L371.0 172.2L372.4 172.2L373.8 172.2L375.1 172.2L376.5 172.2L377.9 172.2L379.3 172.2L380.7 172.2L382.1 172.1L383.4 172.1L384.8 172.1L386.2 172.1L387.6 172.1L389.0 172.0L390.4 172.0L391.8 172.0L393.1 172.0L394.5 172.0L395.9 171.9L397.3 171.9L398.7 171.9L400.1 171.8L401.4 171.8L402.8 171.8L404.2 171.8L405.6 171.7L407.0 171.7L408.4 171.7L409.7 171.6" stroke="#b23fc4" stroke-width="0.9" fill="none"/>
<g transform="translate(65.1,108.67)"><circle r="3.6" stroke="#b23fc4" stroke-width="0.9" fill="none"/><path d="M0-3.6V3.6M-3.6 0H3.6" stroke="#b23fc4" stroke-width="0.9"/></g>
<g transform="translate(152.3,129.96)"><circle r="3.6" stroke="#b23fc4" stroke-width="0.9" fill="none"/><path d="M0-3.6V3.6M-3.6 0H3.6" stroke="#b23fc4" stroke-width="0.9"/></g>
<g transform="translate(239.5,158.26)"><circle r="3.6" stroke="#b23fc4" stroke-width="0.9" fill="none"/><path d="M0-3.6V3.6M-3.6 0H3.6" stroke="#b23fc4" stroke-width="0.9"/></g>
<g transform="translate(326.7,171.29)"><circle r="3.6" stroke="#b23fc4" stroke-width="0.9" fill="none"/><path d="M0-3.6V3.6M-3.6 0H3.6" stroke="#b23fc4" stroke-width="0.9"/></g>
<g transform="translate(413.9,171.54)"><circle r="3.6" stroke="#b23fc4" stroke-width="0.9" fill="none"/><path d="M0-3.6V3.6M-3.6 0H3.6" stroke="#b23fc4" stroke-width="0.9"/></g>
</g>
<g><path d="M67.8 91.1L69.2 92.5L70.5 93.9L71.9 95.3L73.3 96.6L74.6 98.0L76.0 99.4L77.4 100.8L78.7 102.1L80.1 103.5L81.4 104.9L82.8 106.2L84.2 107.6L85.5 108.9L86.9 110.3L88.3 111.6L89.6 112.9L91.0 114.3L92.3 115.6L93.7 116.9L95.1 118.2L96.4 119.5L97.8 120.9L99.2 122.1L100.5 123.4L101.9 124.7L103.2 126.0L104.6 127.3L106.0 128.5L107.3 129.8L108.7 131.0L110.1 132.2L111.4 133.5L112.8 134.7L114.2 135.9L115.5 137.1L116.9 138.3L118.2 139.4L119.6 140.6L121.0 141.8L122.3 142.9L123.7 144.0L125.1 145.1L126.4 146.2L127.8 147.3L129.1 148.4L130.5 149.5L131.9 150.5L133.2 151.6L134.6 152.6L135.9 153.6L137.3 154.6L138.7 155.6L140.0 156.6L141.4 157.5L142.8 158.4L144.1 159.4L145.5 160.3L146.9 161.1L148.2 162.0M156.4 166.9L157.8 167.6L159.1 168.4L160.5 169.1L161.8 169.8L163.2 170.4L164.6 171.1L165.9 171.7L167.3 172.4L168.7 173.0L170.0 173.6L171.4 174.2L172.7 174.7L174.1 175.3L175.5 175.8L176.8 176.3L178.2 176.8L179.6 177.3L180.9 177.7L182.3 178.2L183.6 178.6L185.0 179.0L186.4 179.4L187.7 179.8L189.1 180.2L190.4 180.5L191.8 180.9L193.2 181.2L194.5 181.5L195.9 181.8L197.3 182.1L198.6 182.4L200.0 182.6L201.4 182.8L202.7 183.1L204.1 183.3L205.4 183.5L206.8 183.6L208.2 183.8L209.5 183.9L210.9 184.1L212.2 184.2L213.6 184.3L215.0 184.4L216.3 184.5L217.7 184.5L219.1 184.6L220.4 184.6L221.8 184.7L223.2 184.7L224.5 184.7L225.9 184.7L227.2 184.6L228.6 184.6L230.0 184.5L231.3 184.5L232.7 184.4L234.1 184.3L235.4 184.2M243.6 183.3L244.9 183.1L246.3 182.9L247.7 182.7L249.0 182.5L250.4 182.3L251.8 182.1L253.1 181.8L254.5 181.6L255.9 181.3L257.2 181.1L258.6 180.8L259.9 180.5L261.3 180.3L262.7 180.0L264.0 179.7L265.4 179.4L266.8 179.1L268.1 178.8L269.5 178.5L270.8 178.2L272.2 177.9L273.6 177.6L274.9 177.3L276.3 177.0L277.7 176.7L279.0 176.3L280.4 176.0L281.7 175.7L283.1 175.4L284.5 175.1L285.8 174.8L287.2 174.5L288.6 174.2L289.9 174.0L291.3 173.7L292.6 173.4L294.0 173.1L295.4 172.8L296.7 172.6L298.1 172.3L299.5 172.1L300.8 171.8L302.2 171.6L303.5 171.4L304.9 171.2L306.3 171.0L307.6 170.8L309.0 170.6L310.4 170.4L311.7 170.2L313.1 170.1L314.4 169.9L315.8 169.8L317.2 169.7L318.5 169.6L319.9 169.5L321.3 169.4L322.6 169.4M330.9 169.3L332.2 169.4L333.6 169.5L335.0 169.5L336.4 169.6L337.8 169.8L339.2 169.9L340.5 170.0L341.9 170.2L343.3 170.4L344.7 170.5L346.1 170.7L347.5 171.0L348.8 171.2L350.2 171.4L351.6 171.7L353.0 171.9L354.4 172.2L355.8 172.5L357.2 172.8L358.5 173.1L359.9 173.4L361.3 173.7L362.7 174.1L364.1 174.4L365.5 174.8L366.8 175.2L368.2 175.5L369.6 175.9L371.0 176.3L372.4 176.7L373.8 177.1L375.1 177.5L376.5 178.0L377.9 178.4L379.3 178.8L380.7 179.3L382.1 179.7L383.4 180.2L384.8 180.7L386.2 181.1L387.6 181.6L389.0 182.1L390.4 182.6L391.8 183.1L393.1 183.6L394.5 184.1L395.9 184.6L397.3 185.1L398.7 185.6L400.1 186.1L401.4 186.6L402.8 187.1L404.2 187.7L405.6 188.2L407.0 188.7L408.4 189.2L409.7 189.7" stroke="#8a2252" stroke-width="0.9" fill="none"/>
<polygon transform="translate(65.1,88.37)" points="0.0,-4.1 1.0,-1.4 3.9,-1.3 1.6,0.5 2.4,3.3 0.0,1.7 -2.4,3.3 -1.6,0.5 -3.9,-1.3 -1.0,-1.4" fill="#8a2252" stroke="#8a2252" stroke-width="0.5"/>
<polygon transform="translate(152.3,164.53)" points="0.0,-4.1 1.0,-1.4 3.9,-1.3 1.6,0.5 2.4,3.3 0.0,1.7 -2.4,3.3 -1.6,0.5 -3.9,-1.3 -1.0,-1.4" fill="#8a2252" stroke="#8a2252" stroke-width="0.5"/>
<polygon transform="translate(239.5,183.81)" points="0.0,-4.1 1.0,-1.4 3.9,-1.3 1.6,0.5 2.4,3.3 0.0,1.7 -2.4,3.3 -1.6,0.5 -3.9,-1.3 -1.0,-1.4" fill="#8a2252" stroke="#8a2252" stroke-width="0.5"/>
<polygon transform="translate(326.7,169.29)" points="0.0,-4.1 1.0,-1.4 3.9,-1.3 1.6,0.5 2.4,3.3 0.0,1.7 -2.4,3.3 -1.6,0.5 -3.9,-1.3 -1.0,-1.4" fill="#8a2252" stroke="#8a2252" stroke-width="0.5"/>
<polygon transform="translate(413.9,191.33)" points="0.0,-4.1 1.0,-1.4 3.9,-1.3 1.6,0.5 2.4,3.3 0.0,1.7 -2.4,3.3 -1.6,0.5 -3.9,-1.3 -1.0,-1.4" fill="#8a2252" stroke="#8a2252" stroke-width="0.5"/>
</g>
<g><path d="M67.8 45.2L69.2 46.6L70.5 48.1L71.9 49.5L73.3 51.0L74.6 52.4L76.0 53.9L77.4 55.3L78.7 56.8L80.1 58.2L81.4 59.6L82.8 61.1L84.2 62.5L85.5 63.9L86.9 65.4L88.3 66.8L89.6 68.2L91.0 69.6L92.3 71.0L93.7 72.5L95.1 73.9L96.4 75.3L97.8 76.7L99.2 78.0L100.5 79.4L101.9 80.8L103.2 82.2L104.6 83.5L106.0 84.9L107.3 86.3L108.7 87.6L110.1 89.0L111.4 90.3L112.8 91.6L114.2 92.9L115.5 94.3L116.9 95.6L118.2 96.9L119.6 98.2L121.0 99.4L122.3 100.7L123.7 102.0L125.1 103.2L126.4 104.5L127.8 105.7L129.1 107.0L130.5 108.2L131.9 109.4L133.2 110.6L134.6 111.8L135.9 113.0L137.3 114.1L138.7 115.3L140.0 116.4L141.4 117.6L142.8 118.7L144.1 119.8L145.5 120.9L146.9 122.0L148.2 123.1L149.6 124.1M155.0 128.2L156.4 129.2L157.8 130.2L159.1 131.2L160.5 132.1L161.8 133.1L163.2 134.0L164.6 134.9L165.9 135.8L167.3 136.7L168.7 137.6L170.0 138.5L171.4 139.3L172.7 140.2L174.1 141.0L175.5 141.8L176.8 142.6L178.2 143.4L179.6 144.2L180.9 145.0L182.3 145.7L183.6 146.5L185.0 147.2L186.4 147.9L187.7 148.6L189.1 149.3L190.4 150.0L191.8 150.6L193.2 151.3L194.5 151.9L195.9 152.6L197.3 153.2L198.6 153.8L200.0 154.4L201.4 154.9L202.7 155.5L204.1 156.1L205.4 156.6L206.8 157.1L208.2 157.7L209.5 158.2L210.9 158.7L212.2 159.1L213.6 159.6L215.0 160.1L216.3 160.5L217.7 160.9L219.1 161.4L220.4 161.8L221.8 162.2L223.2 162.6L224.5 162.9L225.9 163.3L227.2 163.6L228.6 164.0L230.0 164.3L231.3 164.6L232.7 164.9L234.1 165.2L235.4 165.5M243.6 167.0L244.9 167.2L246.3 167.3L247.7 167.5L249.0 167.7L250.4 167.9L251.8 168.0L253.1 168.2L254.5 168.3L255.9 168.4L257.2 168.6L258.6 168.7L259.9 168.8L261.3 168.9L262.7 169.0L264.0 169.1L265.4 169.1L266.8 169.2L268.1 169.3L269.5 169.4L270.8 169.4L272.2 169.5L273.6 169.5L274.9 169.6L276.3 169.6L277.7 169.7L279.0 169.7L280.4 169.8L281.7 169.8L283.1 169.8L284.5 169.9L285.8 169.9L287.2 169.9L288.6 170.0L289.9 170.0L291.3 170.0L292.6 170.1L294.0 170.1L295.4 170.1L296.7 170.2L298.1 170.2L299.5 170.3L300.8 170.3L302.2 170.4L303.5 170.4L304.9 170.5L306.3 170.5L307.6 170.6L309.0 170.6L310.4 170.7L311.7 170.8L313.1 170.9L314.4 171.0L315.8 171.0L317.2 171.1L318.5 171.3L319.9 171.4L321.3 171.5L322.6 171.6M330.9 172.6L332.2 172.7L333.6 172.9L335.0 173.2L336.4 173.4L337.8 173.6L339.2 173.8L340.5 174.1L341.9 174.3L343.3 174.6L344.7 174.8L346.1 175.1L347.5 175.4L348.8 175.6L350.2 175.9L351.6 176.2L353.0 176.5L354.4 176.8L355.8 177.2L357.2 177.5L358.5 177.8L359.9 178.1L361.3 178.5L362.7 178.8L364.1 179.2L365.5 179.5L366.8 179.9L368.2 180.2L369.6 180.6L371.0 181.0L372.4 181.4L373.8 181.8L375.1 182.1L376.5 182.5L377.9 182.9L379.3 183.3L380.7 183.7L382.1 184.1L383.4 184.5L384.8 185.0L386.2 185.4L387.6 185.8L389.0 186.2L390.4 186.6L391.8 187.1L393.1 187.5L394.5 187.9L395.9 188.3L397.3 188.8L398.7 189.2L400.1 189.7L401.4 190.1L402.8 190.5L404.2 191.0L405.6 191.4L407.0 191.9L408.4 192.3L409.7 192.7" stroke="#8f8f1c" stroke-width="0.9" fill="none"/>
<g transform="translate(65.1,42.28)"><circle r="3.6" stroke="#8f8f1c" stroke-width="0.9" fill="#fff"/><path d="M0-3.6A3.6 3.6 0 0 1 0 3.6Z" fill="#8f8f1c"/></g>
<g transform="translate(152.3,126.2)"><circle r="3.6" stroke="#8f8f1c" stroke-width="0.9" fill="#fff"/><path d="M0-3.6A3.6 3.6 0 0 1 0 3.6Z" fill="#8f8f1c"/></g>
<g transform="translate(239.5,166.28)"><circle r="3.6" stroke="#8f8f1c" stroke-width="0.9" fill="#fff"/><path d="M0-3.6A3.6 3.6 0 0 1 0 3.6Z" fill="#8f8f1c"/></g>
<g transform="translate(326.7,172.04)"><circle r="3.6" stroke="#8f8f1c" stroke-width="0.9" fill="#fff"/><path d="M0-3.6A3.6 3.6 0 0 1 0 3.6Z" fill="#8f8f1c"/></g>
<g transform="translate(413.9,194.09)"><circle r="3.6" stroke="#8f8f1c" stroke-width="0.9" fill="#fff"/><path d="M0-3.6A3.6 3.6 0 0 1 0 3.6Z" fill="#8f8f1c"/></g>
</g>
<g><path d="M69.2 107.2L70.5 107.8L71.9 108.3L73.3 108.9L74.6 109.5L76.0 110.1L77.4 110.7L78.7 111.3L80.1 111.9L81.4 112.5L82.8 113.1L84.2 113.6L85.5 114.2L86.9 114.8L88.3 115.4L89.6 116.0L91.0 116.6L92.3 117.2L93.7 117.8L95.1 118.3L96.4 118.9L97.8 119.5L99.2 120.1L100.5 120.7L101.9 121.3L103.2 121.9L104.6 122.5L106.0 123.1L107.3 123.7L108.7 124.2L110.1 124.8L111.4 125.4L112.8 126.0L114.2 126.6L115.5 127.2L116.9 127.8L118.2 128.4L119.6 129.0L121.0 129.6L122.3 130.2L123.7 130.7L125.1 131.3L126.4 131.9L127.8 132.5L129.1 133.1L130.5 133.7L131.9 134.3L133.2 134.9L134.6 135.5L135.9 136.1L137.3 136.7L138.7 137.3L140.0 137.9L141.4 138.5L142.8 139.1L144.1 139.7L145.5 140.3L146.9 140.8L148.2 141.4M156.4 145.0L157.8 145.6L159.1 146.2L160.5 146.8L161.8 147.4L163.2 148.0L164.6 148.6L165.9 149.2L167.3 149.8L168.7 150.4L170.0 151.0L171.4 151.6L172.7 152.1L174.1 152.7L175.5 153.3L176.8 153.9L178.2 154.5L179.6 155.0L180.9 155.6L182.3 156.2L183.6 156.7L185.0 157.3L186.4 157.8L187.7 158.4L189.1 158.9L190.4 159.5L191.8 160.0L193.2 160.6L194.5 161.1L195.9 161.6L197.3 162.1L198.6 162.7L200.0 163.2L201.4 163.7L202.7 164.2L204.1 164.7L205.4 165.2L206.8 165.6L208.2 166.1L209.5 166.6L210.9 167.1L212.2 167.5L213.6 168.0L215.0 168.4L216.3 168.9L217.7 169.3L219.1 169.7L220.4 170.1L221.8 170.5L223.2 170.9L224.5 171.3L225.9 171.7L227.2 172.1L228.6 172.4L230.0 172.8L231.3 173.2L232.7 173.5L234.1 173.8L235.4 174.1M243.6 175.9L244.9 176.1L246.3 176.4L247.7 176.6L249.0 176.8L250.4 177.1L251.8 177.3L253.1 177.5L254.5 177.7L255.9 177.9L257.2 178.1L258.6 178.2L259.9 178.4L261.3 178.6L262.7 178.8L264.0 178.9L265.4 179.1L266.8 179.2L268.1 179.4L269.5 179.5L270.8 179.7L272.2 179.8L273.6 179.9L274.9 180.1L276.3 180.2L277.7 180.4L279.0 180.5L280.4 180.6L281.7 180.8L283.1 180.9L284.5 181.0L285.8 181.2L287.2 181.3L288.6 181.4L289.9 181.6L291.3 181.7L292.6 181.8L294.0 182.0L295.4 182.1L296.7 182.3L298.1 182.4L299.5 182.6L300.8 182.8L302.2 182.9L303.5 183.1L304.9 183.3L306.3 183.5L307.6 183.6L309.0 183.8L310.4 184.0L311.7 184.2L313.1 184.5L314.4 184.7L315.8 184.9L317.2 185.2L318.5 185.4L319.9 185.7L321.3 185.9L322.6 186.2M330.9 188.1L332.2 188.4L333.6 188.8L335.0 189.1L336.4 189.5L337.8 189.9L339.2 190.3L340.5 190.7L341.9 191.1L343.3 191.6L344.7 192.0L346.1 192.5L347.5 192.9L348.8 193.4L350.2 193.9L351.6 194.3L353.0 194.8L354.4 195.3L355.8 195.8L357.2 196.3L358.5 196.8L359.9 197.4L361.3 197.9L362.7 198.4L364.1 199.0L365.5 199.5L366.8 200.1L368.2 200.6L369.6 201.2L371.0 201.8L372.4 202.4L373.8 203.0L375.1 203.5L376.5 204.1L377.9 204.7L379.3 205.3L380.7 205.9L382.1 206.6L383.4 207.2L384.8 207.8L386.2 208.4L387.6 209.0L389.0 209.7L390.4 210.3L391.8 210.9L393.1 211.6L394.5 212.2L395.9 212.9L397.3 213.5L398.7 214.2L400.1 214.8L401.4 215.5L402.8 216.1L404.2 216.8L405.6 217.4L407.0 218.1L408.4 218.8L409.7 219.4" stroke="#3c78b4" stroke-width="0.9" fill="none"/>
<g transform="translate(65.1,105.41)"><circle r="3.8" fill="url(#sph)"/></g>
<g transform="translate(152.3,143.23)"><circle r="3.8" fill="url(#sph)"/></g>
<g transform="translate(239.5,175.05)"><circle r="3.8" fill="url(#sph)"/></g>
<g transform="translate(326.7,187.07)"><circle r="3.8" fill="url(#sph)"/></g>
</g>
<g><path d="M66.5 236.6L67.8 236.8L69.2 236.9L70.5 237.1L71.9 237.3L73.3 237.4L74.6 237.6L76.0 237.8L77.4 237.9L78.7 238.1L80.1 238.3L81.4 238.4L82.8 238.6L84.2 238.8L85.5 238.9L86.9 239.1L88.3 239.2L89.6 239.4L91.0 239.6L92.3 239.7L93.7 239.9L95.1 240.0L96.4 240.2L97.8 240.3L99.2 240.5L100.5 240.6L101.9 240.8L103.2 240.9L104.6 241.1L106.0 241.2L107.3 241.3L108.7 241.5L110.1 241.6L111.4 241.7L112.8 241.9L114.2 242.0L115.5 242.1L116.9 242.2L118.2 242.3L119.6 242.5L121.0 242.6L122.3 242.7L123.7 242.8L125.1 242.9L126.4 243.0L127.8 243.1L129.1 243.2L130.5 243.3L131.9 243.3L133.2 243.4L134.6 243.5L135.9 243.6L137.3 243.7L138.7 243.7L140.0 243.8L141.4 243.9L142.8 243.9L144.1 244.0L145.5 244.0L146.9 244.1L148.2 244.1L149.6 244.1L150.9 244.2M153.7 244.2L155.0 244.2L156.4 244.2L157.8 244.2L159.1 244.3L160.5 244.2L161.8 244.2L163.2 244.2L164.6 244.2L165.9 244.2L167.3 244.2L168.7 244.1L170.0 244.1L171.4 244.1L172.7 244.0L174.1 244.0L175.5 243.9L176.8 243.9L178.2 243.8L179.6 243.7L180.9 243.7L182.3 243.6L183.6 243.5L185.0 243.4L186.4 243.3L187.7 243.2L189.1 243.1L190.4 243.0L191.8 242.9L193.2 242.8L194.5 242.6L195.9 242.5L197.3 242.4L198.6 242.2L200.0 242.1L201.4 241.9L202.7 241.8L204.1 241.6L205.4 241.5L206.8 241.3L208.2 241.1L209.5 240.9L210.9 240.7L212.2 240.5L213.6 240.3L215.0 240.1L216.3 239.9L217.7 239.7L219.1 239.5L220.4 239.2L221.8 239.0L223.2 238.8L224.5 238.5L225.9 238.3L227.2 238.0L228.6 237.7L230.0 237.5L231.3 237.2L232.7 236.9L234.1 236.6L235.4 236.3L236.8 236.0L238.1 235.7M240.9 235.1L242.2 234.8L243.6 234.4L244.9 234.1L246.3 233.8L247.7 233.4L249.0 233.1L250.4 232.7L251.8 232.4L253.1 232.0L254.5 231.7L255.9 231.3L257.2 230.9L258.6 230.6L259.9 230.2L261.3 229.8L262.7 229.4L264.0 229.1L265.4 228.7L266.8 228.3L268.1 227.9L269.5 227.6L270.8 227.2L272.2 226.8L273.6 226.4L274.9 226.1L276.3 225.7L277.7 225.3L279.0 225.0L280.4 224.6L281.7 224.2L283.1 223.9L284.5 223.5L285.8 223.2L287.2 222.8L288.6 222.5L289.9 222.1L291.3 221.8L292.6 221.5L294.0 221.2L295.4 220.8L296.7 220.5L298.1 220.2L299.5 219.9L300.8 219.6L302.2 219.4L303.5 219.1L304.9 218.8L306.3 218.6L307.6 218.3L309.0 218.1L310.4 217.8L311.7 217.6L313.1 217.4L314.4 217.2L315.8 217.0L317.2 216.8L318.5 216.7L319.9 216.5L321.3 216.4L322.6 216.2L324.0 216.1L325.3 216.0M328.1 215.8L329.5 215.7L330.9 215.7L332.2 215.6L333.6 215.6L335.0 215.5L336.4 215.5L337.8 215.5L339.2 215.5L340.5 215.6L341.9 215.6L343.3 215.6L344.7 215.7L346.1 215.8L347.5 215.8L348.8 215.9L350.2 216.0L351.6 216.1L353.0 216.3L354.4 216.4L355.8 216.5L357.2 216.7L358.5 216.8L359.9 217.0L361.3 217.2L362.7 217.3L364.1 217.5L365.5 217.7L366.8 217.9L368.2 218.1L369.6 218.3L371.0 218.6L372.4 218.8L373.8 219.0L375.1 219.3L376.5 219.5L377.9 219.8L379.3 220.0L380.7 220.3L382.1 220.6L383.4 220.8L384.8 221.1L386.2 221.4L387.6 221.7L389.0 222.0L390.4 222.3L391.8 222.6L393.1 222.9L394.5 223.2L395.9 223.5L397.3 223.8L398.7 224.1L400.1 224.4L401.4 224.7L402.8 225.1L404.2 225.4L405.6 225.7L407.0 226.0L408.4 226.3L409.7 226.7L411.1 227.0L412.5 227.3" stroke="#4fd0c0" stroke-width="0.9" fill="none"/>
<path transform="translate(65.1,236.42)" d="M0-3.6V3.6" stroke="#4fd0c0" stroke-width="0.9"/>
<path transform="translate(152.3,244.19)" d="M0-3.6V3.6" stroke="#4fd0c0" stroke-width="0.9"/>
<path transform="translate(239.5,235.42)" d="M0-3.6V3.6" stroke="#4fd0c0" stroke-width="0.9"/>
<path transform="translate(326.7,215.88)" d="M0-3.6V3.6" stroke="#4fd0c0" stroke-width="0.9"/>
<path transform="translate(413.9,227.65)" d="M0-3.6V3.6" stroke="#4fd0c0" stroke-width="0.9"/>
</g>
<g><path d="M69.2 155.0L70.5 155.3L71.9 155.7L73.3 156.0L74.6 156.4L76.0 156.7L77.4 157.0L78.7 157.4L80.1 157.7L81.4 158.0L82.8 158.4L84.2 158.7L85.5 159.0L86.9 159.4L88.3 159.7L89.6 160.0L91.0 160.4L92.3 160.7L93.7 161.0L95.1 161.4L96.4 161.7L97.8 162.0L99.2 162.4L100.5 162.7L101.9 163.0L103.2 163.4L104.6 163.7L106.0 164.0L107.3 164.4L108.7 164.7L110.1 165.0L111.4 165.3L112.8 165.7L114.2 166.0L115.5 166.3L116.9 166.7L118.2 167.0L119.6 167.3L121.0 167.6L122.3 168.0L123.7 168.3L125.1 168.6L126.4 169.0L127.8 169.3L129.1 169.6L130.5 169.9L131.9 170.3L133.2 170.6L134.6 170.9L135.9 171.2L137.3 171.5L138.7 171.9L140.0 172.2L141.4 172.5L142.8 172.8L144.1 173.1L145.5 173.5L146.9 173.8L148.2 174.1M156.4 176.0L157.8 176.3L159.1 176.6L160.5 176.9L161.8 177.2L163.2 177.5L164.6 177.9L165.9 178.2L167.3 178.5L168.7 178.8L170.0 179.1L171.4 179.4L172.7 179.7L174.1 180.0L175.5 180.3L176.8 180.6L178.2 180.9L179.6 181.2L180.9 181.5L182.3 181.8L183.6 182.1L185.0 182.4L186.4 182.7L187.7 183.0L189.1 183.3L190.4 183.6L191.8 183.9L193.2 184.2L194.5 184.5L195.9 184.7L197.3 185.0L198.6 185.3L200.0 185.6L201.4 185.9L202.7 186.2L204.1 186.4L205.4 186.7L206.8 187.0L208.2 187.3L209.5 187.6L210.9 187.8L212.2 188.1L213.6 188.4L215.0 188.7L216.3 188.9L217.7 189.2L219.1 189.5L220.4 189.7L221.8 190.0L223.2 190.3L224.5 190.5L225.9 190.8L227.2 191.1L228.6 191.3L230.0 191.6L231.3 191.8L232.7 192.1L234.1 192.3L235.4 192.6M243.6 194.1L244.9 194.3L246.3 194.5L247.7 194.8L249.0 195.0L250.4 195.3L251.8 195.5L253.1 195.7L254.5 196.0L255.9 196.2L257.2 196.4L258.6 196.6L259.9 196.9L261.3 197.1L262.7 197.3L264.0 197.6L265.4 197.8L266.8 198.0L268.1 198.2L269.5 198.4L270.8 198.7L272.2 198.9L273.6 199.1L274.9 199.3L276.3 199.5L277.7 199.7L279.0 199.9L280.4 200.2L281.7 200.4L283.1 200.6L284.5 200.8L285.8 201.0L287.2 201.2L288.6 201.4L289.9 201.6L291.3 201.8L292.6 202.0L294.0 202.3L295.4 202.5L296.7 202.7L298.1 202.9L299.5 203.1L300.8 203.3L302.2 203.5L303.5 203.7L304.9 203.9L306.3 204.1L307.6 204.3L309.0 204.5L310.4 204.7L311.7 204.9L313.1 205.1L314.4 205.3L315.8 205.5L317.2 205.7L318.5 205.9L319.9 206.1L321.3 206.3L322.6 206.5M330.9 207.7L332.2 207.9L333.6 208.1L335.0 208.3L336.4 208.5L337.8 208.8L339.2 209.0L340.5 209.2L341.9 209.4L343.3 209.6L344.7 209.8L346.1 210.0L347.5 210.2L348.8 210.4L350.2 210.6L351.6 210.8L353.0 211.0L354.4 211.2L355.8 211.4L357.2 211.6L358.5 211.8L359.9 212.0L361.3 212.3L362.7 212.5L364.1 212.7L365.5 212.9L366.8 213.1L368.2 213.3L369.6 213.5L371.0 213.7L372.4 213.9L373.8 214.1L375.1 214.3L376.5 214.5L377.9 214.7L379.3 214.9L380.7 215.2L382.1 215.4L383.4 215.6L384.8 215.8L386.2 216.0L387.6 216.2L389.0 216.4L390.4 216.6L391.8 216.8L393.1 217.0L394.5 217.2L395.9 217.4L397.3 217.6L398.7 217.9L400.1 218.1L401.4 218.3L402.8 218.5L404.2 218.7L405.6 218.9L407.0 219.1L408.4 219.3L409.7 219.5" stroke="#c49a6c" stroke-width="0.9" fill="none"/>
<path transform="translate(65.1,154.01)" d="M-3.6-3.6L3.6 3.6M-3.6 3.6L3.6-3.6" stroke="#c49a6c" stroke-width="0.9"/>
<path transform="translate(152.3,175.05)" d="M-3.6-3.6L3.6 3.6M-3.6 3.6L3.6-3.6" stroke="#c49a6c" stroke-width="0.9"/>
<path transform="translate(239.5,193.33)" d="M-3.6-3.6L3.6 3.6M-3.6 3.6L3.6-3.6" stroke="#c49a6c" stroke-width="0.9"/>
<path transform="translate(326.7,207.11)" d="M-3.6-3.6L3.6 3.6M-3.6 3.6L3.6-3.6" stroke="#c49a6c" stroke-width="0.9"/>
<path transform="translate(413.9,220.14)" d="M-3.6-3.6L3.6 3.6M-3.6 3.6L3.6-3.6" stroke="#c49a6c" stroke-width="0.9"/>
</g>
<g><path d="M69.2 186.1L70.5 186.0L71.9 185.9L73.3 185.9L74.6 185.8L76.0 185.7L77.4 185.6L78.7 185.6L80.1 185.5L81.4 185.4L82.8 185.4L84.2 185.3L85.5 185.2L86.9 185.2L88.3 185.1L89.6 185.0L91.0 185.0L92.3 184.9L93.7 184.8L95.1 184.8L96.4 184.7L97.8 184.7L99.2 184.6L100.5 184.6L101.9 184.5L103.2 184.5L104.6 184.4L106.0 184.4L107.3 184.4L108.7 184.3L110.1 184.3L111.4 184.3L112.8 184.2L114.2 184.2L115.5 184.2L116.9 184.2L118.2 184.2L119.6 184.2L121.0 184.1L122.3 184.1L123.7 184.1L125.1 184.1L126.4 184.2L127.8 184.2L129.1 184.2L130.5 184.2L131.9 184.2L133.2 184.2L134.6 184.3L135.9 184.3L137.3 184.3L138.7 184.4L140.0 184.4L141.4 184.5L142.8 184.5L144.1 184.6L145.5 184.7L146.9 184.7L148.2 184.8M156.4 185.4L157.8 185.5L159.1 185.6L160.5 185.7L161.8 185.8L163.2 186.0L164.6 186.1L165.9 186.3L167.3 186.4L168.7 186.5L170.0 186.7L171.4 186.9L172.7 187.0L174.1 187.2L175.5 187.3L176.8 187.5L178.2 187.7L179.6 187.9L180.9 188.1L182.3 188.2L183.6 188.4L185.0 188.6L186.4 188.8L187.7 189.0L189.1 189.2L190.4 189.4L191.8 189.6L193.2 189.8L194.5 190.0L195.9 190.2L197.3 190.5L198.6 190.7L200.0 190.9L201.4 191.1L202.7 191.3L204.1 191.6L205.4 191.8L206.8 192.0L208.2 192.2L209.5 192.5L210.9 192.7L212.2 192.9L213.6 193.1L215.0 193.4L216.3 193.6L217.7 193.8L219.1 194.1L220.4 194.3L221.8 194.6L223.2 194.8L224.5 195.0L225.9 195.3L227.2 195.5L228.6 195.7L230.0 196.0L231.3 196.2L232.7 196.4L234.1 196.7L235.4 196.9M243.6 198.3L244.9 198.5L246.3 198.7L247.7 199.0L249.0 199.2L250.4 199.4L251.8 199.6L253.1 199.8L254.5 200.1L255.9 200.3L257.2 200.5L258.6 200.7L259.9 200.9L261.3 201.2L262.7 201.4L264.0 201.6L265.4 201.8L266.8 202.0L268.1 202.2L269.5 202.4L270.8 202.7L272.2 202.9L273.6 203.1L274.9 203.3L276.3 203.5L277.7 203.7L279.0 203.9L280.4 204.1L281.7 204.4L283.1 204.6L284.5 204.8L285.8 205.0L287.2 205.2L288.6 205.4L289.9 205.6L291.3 205.8L292.6 206.0L294.0 206.2L295.4 206.5L296.7 206.7L298.1 206.9L299.5 207.1L300.8 207.3L302.2 207.5L303.5 207.7L304.9 207.9L306.3 208.1L307.6 208.4L309.0 208.6L310.4 208.8L311.7 209.0L313.1 209.2L314.4 209.4L315.8 209.6L317.2 209.8L318.5 210.1L319.9 210.3L321.3 210.5L322.6 210.7M330.9 212.0L332.2 212.3L333.6 212.5L335.0 212.7L336.4 212.9L337.8 213.2L339.2 213.4L340.5 213.6L341.9 213.9L343.3 214.1L344.7 214.3L346.1 214.6L347.5 214.8L348.8 215.0L350.2 215.3L351.6 215.5L353.0 215.7L354.4 216.0L355.8 216.2L357.2 216.4L358.5 216.7L359.9 216.9L361.3 217.1L362.7 217.4L364.1 217.6L365.5 217.9L366.8 218.1L368.2 218.3L369.6 218.6L371.0 218.8L372.4 219.1L373.8 219.3L375.1 219.5L376.5 219.8L377.9 220.0L379.3 220.3L380.7 220.5L382.1 220.8L383.4 221.0L384.8 221.2L386.2 221.5L387.6 221.7L389.0 222.0L390.4 222.2L391.8 222.5L393.1 222.7L394.5 223.0L395.9 223.2L397.3 223.4L398.7 223.7L400.1 223.9L401.4 224.2L402.8 224.4L404.2 224.7L405.6 224.9L407.0 225.2L408.4 225.4L409.7 225.7" stroke="#45dd66" stroke-width="0.9" fill="none"/>
<path transform="translate(65.1,186.32)" d="M0-4.2V4.2M-3.8-2.4L3.8 2.4M-3.8 2.4L3.8-2.4" stroke="#45dd66" stroke-width="0.9"/>
<path transform="translate(152.3,185.07)" d="M0-4.2V4.2M-3.8-2.4L3.8 2.4M-3.8 2.4L3.8-2.4" stroke="#45dd66" stroke-width="0.9"/>
<path transform="translate(239.5,197.59)" d="M0-4.2V4.2M-3.8-2.4L3.8 2.4M-3.8 2.4L3.8-2.4" stroke="#45dd66" stroke-width="0.9"/>
<path transform="translate(326.7,211.37)" d="M0-4.2V4.2M-3.8-2.4L3.8 2.4M-3.8 2.4L3.8-2.4" stroke="#45dd66" stroke-width="0.9"/>
<path transform="translate(413.9,226.4)" d="M0-4.2V4.2M-3.8-2.4L3.8 2.4M-3.8 2.4L3.8-2.4" stroke="#45dd66" stroke-width="0.9"/>
</g>
<g><path d="M69.2 149.2L70.5 149.9L71.9 150.6L73.3 151.3L74.6 152.0L76.0 152.8L77.4 153.5L78.7 154.2L80.1 154.9L81.4 155.6L82.8 156.3L84.2 157.1L85.5 157.8L86.9 158.5L88.3 159.2L89.6 159.9L91.0 160.6L92.3 161.3L93.7 162.0L95.1 162.7L96.4 163.4L97.8 164.0L99.2 164.7L100.5 165.4L101.9 166.1L103.2 166.8L104.6 167.4L106.0 168.1L107.3 168.8L108.7 169.4L110.1 170.1L111.4 170.7L112.8 171.4L114.2 172.0L115.5 172.6L116.9 173.3L118.2 173.9L119.6 174.5L121.0 175.1L122.3 175.8L123.7 176.4L125.1 177.0L126.4 177.5L127.8 178.1L129.1 178.7L130.5 179.3L131.9 179.9L133.2 180.4L134.6 181.0L135.9 181.5L137.3 182.1L138.7 182.6L140.0 183.1L141.4 183.7L142.8 184.2L144.1 184.7L145.5 185.2L146.9 185.7L148.2 186.2M156.4 188.9L157.8 189.3L159.1 189.8L160.5 190.2L161.8 190.6L163.2 191.0L164.6 191.4L165.9 191.7L167.3 192.1L168.7 192.5L170.0 192.8L171.4 193.2L172.7 193.5L174.1 193.9L175.5 194.2L176.8 194.5L178.2 194.8L179.6 195.2L180.9 195.5L182.3 195.8L183.6 196.1L185.0 196.3L186.4 196.6L187.7 196.9L189.1 197.2L190.4 197.4L191.8 197.7L193.2 197.9L194.5 198.2L195.9 198.4L197.3 198.7L198.6 198.9L200.0 199.1L201.4 199.3L202.7 199.5L204.1 199.8L205.4 200.0L206.8 200.2L208.2 200.4L209.5 200.6L210.9 200.7L212.2 200.9L213.6 201.1L215.0 201.3L216.3 201.5L217.7 201.6L219.1 201.8L220.4 201.9L221.8 202.1L223.2 202.3L224.5 202.4L225.9 202.5L227.2 202.7L228.6 202.8L230.0 203.0L231.3 203.1L232.7 203.2L234.1 203.4L235.4 203.5M243.6 204.2L244.9 204.3L246.3 204.4L247.7 204.5L249.0 204.6L250.4 204.7L251.8 204.8L253.1 204.9L254.5 205.0L255.9 205.1L257.2 205.2L258.6 205.3L259.9 205.4L261.3 205.5L262.7 205.6L264.0 205.7L265.4 205.8L266.8 205.9L268.1 205.9L269.5 206.0L270.8 206.1L272.2 206.2L273.6 206.3L274.9 206.4L276.3 206.4L277.7 206.5L279.0 206.6L280.4 206.7L281.7 206.8L283.1 206.8L284.5 206.9L285.8 207.0L287.2 207.1L288.6 207.2L289.9 207.2L291.3 207.3L292.6 207.4L294.0 207.5L295.4 207.5L296.7 207.6L298.1 207.7L299.5 207.8L300.8 207.9L302.2 208.0L303.5 208.0L304.9 208.1L306.3 208.2L307.6 208.3L309.0 208.4L310.4 208.5L311.7 208.6L313.1 208.6L314.4 208.7L315.8 208.8L317.2 208.9L318.5 209.0L319.9 209.1L321.3 209.2L322.6 209.3M330.9 209.9L332.2 210.1L333.6 210.2L335.0 210.3L336.4 210.4L337.8 210.5L339.2 210.7L340.5 210.8L341.9 210.9L343.3 211.0L344.7 211.2L346.1 211.3L347.5 211.4L348.8 211.6L350.2 211.7L351.6 211.8L353.0 212.0L354.4 212.1L355.8 212.2L357.2 212.4L358.5 212.5L359.9 212.7L361.3 212.8L362.7 213.0L364.1 213.1L365.5 213.3L366.8 213.4L368.2 213.6L369.6 213.7L371.0 213.9L372.4 214.0L373.8 214.2L375.1 214.3L376.5 214.5L377.9 214.6L379.3 214.8L380.7 214.9L382.1 215.1L383.4 215.3L384.8 215.4L386.2 215.6L387.6 215.7L389.0 215.9L390.4 216.1L391.8 216.2L393.1 216.4L394.5 216.6L395.9 216.7L397.3 216.9L398.7 217.1L400.1 217.2L401.4 217.4L402.8 217.6L404.2 217.7L405.6 217.9L407.0 218.1L408.4 218.2L409.7 218.4" stroke="#ee4590" stroke-width="0.9" fill="none"/>
<path transform="translate(65.1,146.99)" d="M-3.6 0H3.6" stroke="#ee4590" stroke-width="0.9"/>
<path transform="translate(152.3,187.57)" d="M-3.6 0H3.6" stroke="#ee4590" stroke-width="0.9"/>
<path transform="translate(239.5,203.86)" d="M-3.6 0H3.6" stroke="#ee4590" stroke-width="0.9"/>
<path transform="translate(326.7,209.62)" d="M-3.6 0H3.6" stroke="#ee4590" stroke-width="0.9"/>
<path transform="translate(413.9,218.89)" d="M-3.6 0H3.6" stroke="#ee4590" stroke-width="0.9"/>
</g>
<g><path d="M66.5 171.5L67.8 171.6L69.2 171.8L70.5 172.0L71.9 172.2L73.3 172.4L74.6 172.5L76.0 172.7L77.4 172.9L78.7 173.1L80.1 173.3L81.4 173.4L82.8 173.6L84.2 173.8L85.5 174.0L86.9 174.2L88.3 174.3L89.6 174.5L91.0 174.7L92.3 174.9L93.7 175.1L95.1 175.2L96.4 175.4L97.8 175.6L99.2 175.8L100.5 176.0L101.9 176.2L103.2 176.4L104.6 176.6L106.0 176.7L107.3 176.9L108.7 177.1L110.1 177.3L111.4 177.5L112.8 177.7L114.2 177.9L115.5 178.1L116.9 178.3L118.2 178.5L119.6 178.7L121.0 178.9L122.3 179.1L123.7 179.3L125.1 179.5L126.4 179.7L127.8 179.9L129.1 180.1L130.5 180.3L131.9 180.5L133.2 180.7L134.6 180.9L135.9 181.2L137.3 181.4L138.7 181.6L140.0 181.8L141.4 182.0L142.8 182.2L144.1 182.5L145.5 182.7L146.9 182.9L148.2 183.1L149.6 183.4L150.9 183.6M153.7 184.0L155.0 184.3L156.4 184.5L157.8 184.8L159.1 185.0L160.5 185.2L161.8 185.5L163.2 185.7L164.6 186.0L165.9 186.2L167.3 186.4L168.7 186.7L170.0 186.9L171.4 187.2L172.7 187.4L174.1 187.7L175.5 187.9L176.8 188.2L178.2 188.4L179.6 188.7L180.9 188.9L182.3 189.2L183.6 189.4L185.0 189.7L186.4 189.9L187.7 190.2L189.1 190.4L190.4 190.7L191.8 190.9L193.2 191.2L194.5 191.4L195.9 191.7L197.3 191.9L198.6 192.2L200.0 192.4L201.4 192.7L202.7 192.9L204.1 193.1L205.4 193.4L206.8 193.6L208.2 193.9L209.5 194.1L210.9 194.3L212.2 194.6L213.6 194.8L215.0 195.0L216.3 195.3L217.7 195.5L219.1 195.7L220.4 195.9L221.8 196.2L223.2 196.4L224.5 196.6L225.9 196.8L227.2 197.0L228.6 197.2L230.0 197.5L231.3 197.7L232.7 197.9L234.1 198.1L235.4 198.3L236.8 198.5L238.1 198.7M240.9 199.0L242.2 199.2L243.6 199.4L244.9 199.6L246.3 199.8L247.7 199.9L249.0 200.1L250.4 200.3L251.8 200.4L253.1 200.6L254.5 200.8L255.9 200.9L257.2 201.1L258.6 201.2L259.9 201.4L261.3 201.5L262.7 201.7L264.0 201.8L265.4 202.0L266.8 202.1L268.1 202.3L269.5 202.4L270.8 202.6L272.2 202.7L273.6 202.9L274.9 203.0L276.3 203.1L277.7 203.3L279.0 203.4L280.4 203.6L281.7 203.7L283.1 203.8L284.5 204.0L285.8 204.1L287.2 204.3L288.6 204.4L289.9 204.6L291.3 204.7L292.6 204.8L294.0 205.0L295.4 205.1L296.7 205.3L298.1 205.4L299.5 205.6L300.8 205.7L302.2 205.9L303.5 206.0L304.9 206.2L306.3 206.3L307.6 206.5L309.0 206.6L310.4 206.8L311.7 206.9L313.1 207.1L314.4 207.3L315.8 207.4L317.2 207.6L318.5 207.8L319.9 208.0L321.3 208.1L322.6 208.3L324.0 208.5L325.3 208.7M328.1 209.1L329.5 209.3L330.9 209.5L332.2 209.7L333.6 209.9L335.0 210.1L336.4 210.3L337.8 210.5L339.2 210.7L340.5 210.9L341.9 211.2L343.3 211.4L344.7 211.6L346.1 211.8L347.5 212.1L348.8 212.3L350.2 212.5L351.6 212.8L353.0 213.0L354.4 213.3L355.8 213.5L357.2 213.8L358.5 214.0L359.9 214.3L361.3 214.5L362.7 214.8L364.1 215.0L365.5 215.3L366.8 215.6L368.2 215.8L369.6 216.1L371.0 216.4L372.4 216.6L373.8 216.9L375.1 217.2L376.5 217.4L377.9 217.7L379.3 218.0L380.7 218.3L382.1 218.5L383.4 218.8L384.8 219.1L386.2 219.4L387.6 219.7L389.0 219.9L390.4 220.2L391.8 220.5L393.1 220.8L394.5 221.1L395.9 221.4L397.3 221.7L398.7 222.0L400.1 222.2L401.4 222.5L402.8 222.8L404.2 223.1L405.6 223.4L407.0 223.7L408.4 224.0L409.7 224.3L411.1 224.6L412.5 224.9" stroke="#55d8cc" stroke-width="0.9" fill="none"/>
<path transform="translate(65.1,171.29)" d="M0-3.6V3.6" stroke="#55d8cc" stroke-width="0.9"/>
<path transform="translate(152.3,183.81)" d="M0-3.6V3.6" stroke="#55d8cc" stroke-width="0.9"/>
<path transform="translate(239.5,198.84)" d="M0-3.6V3.6" stroke="#55d8cc" stroke-width="0.9"/>
<path transform="translate(326.7,208.87)" d="M0-3.6V3.6" stroke="#55d8cc" stroke-width="0.9"/>
<path transform="translate(413.9,225.15)" d="M0-3.6V3.6" stroke="#55d8cc" stroke-width="0.9"/>
</g>
<g><path d="M69.2 250.1L70.5 249.6L71.9 249.1L73.3 248.7L74.6 248.2L76.0 247.8L77.4 247.3L78.7 246.8L80.1 246.4L81.4 245.9L82.8 245.5L84.2 245.0L85.5 244.6L86.9 244.1L88.3 243.7L89.6 243.2L91.0 242.8L92.3 242.3L93.7 241.9L95.1 241.4L96.4 241.0L97.8 240.6L99.2 240.1L100.5 239.7L101.9 239.3L103.2 238.8L104.6 238.4L106.0 238.0L107.3 237.6L108.7 237.1L110.1 236.7L111.4 236.3L112.8 235.9L114.2 235.5L115.5 235.1L116.9 234.7L118.2 234.3L119.6 233.9L121.0 233.5L122.3 233.1L123.7 232.7L125.1 232.3L126.4 232.0L127.8 231.6L129.1 231.2L130.5 230.9L131.9 230.5L133.2 230.1L134.6 229.8L135.9 229.4L137.3 229.1L138.7 228.8L140.0 228.4L141.4 228.1L142.8 227.8L144.1 227.5L145.5 227.1L146.9 226.8L148.2 226.5M156.4 224.8L157.8 224.5L159.1 224.3L160.5 224.0L161.8 223.8L163.2 223.5L164.6 223.3L165.9 223.1L167.3 222.8L168.7 222.6L170.0 222.4L171.4 222.2L172.7 222.0L174.1 221.8L175.5 221.6L176.8 221.4L178.2 221.2L179.6 221.0L180.9 220.9L182.3 220.7L183.6 220.5L185.0 220.4L186.4 220.2L187.7 220.1L189.1 219.9L190.4 219.8L191.8 219.7L193.2 219.5L194.5 219.4L195.9 219.3L197.3 219.2L198.6 219.1L200.0 219.0L201.4 218.9L202.7 218.8L204.1 218.7L205.4 218.6L206.8 218.6L208.2 218.5L209.5 218.4L210.9 218.4L212.2 218.3L213.6 218.3L215.0 218.2L216.3 218.2L217.7 218.2L219.1 218.1L220.4 218.1L221.8 218.1L223.2 218.1L224.5 218.1L225.9 218.1L227.2 218.1L228.6 218.1L230.0 218.1L231.3 218.1L232.7 218.2L234.1 218.2L235.4 218.2M243.6 218.6L244.9 218.6L246.3 218.7L247.7 218.8L249.0 218.9L250.4 219.0L251.8 219.1L253.1 219.2L254.5 219.3L255.9 219.4L257.2 219.5L258.6 219.6L259.9 219.7L261.3 219.8L262.7 219.9L264.0 220.1L265.4 220.2L266.8 220.3L268.1 220.5L269.5 220.6L270.8 220.7L272.2 220.9L273.6 221.0L274.9 221.1L276.3 221.3L277.7 221.4L279.0 221.6L280.4 221.7L281.7 221.9L283.1 222.0L284.5 222.2L285.8 222.3L287.2 222.5L288.6 222.6L289.9 222.8L291.3 222.9L292.6 223.1L294.0 223.2L295.4 223.4L296.7 223.5L298.1 223.7L299.5 223.8L300.8 224.0L302.2 224.1L303.5 224.3L304.9 224.4L306.3 224.5L307.6 224.7L309.0 224.8L310.4 225.0L311.7 225.1L313.1 225.2L314.4 225.4L315.8 225.5L317.2 225.6L318.5 225.7L319.9 225.8L321.3 226.0L322.6 226.1M330.9 226.7L332.2 226.8L333.6 226.9L335.0 227.0L336.4 227.0L337.8 227.1L339.2 227.2L340.5 227.3L341.9 227.3L343.3 227.4L344.7 227.4L346.1 227.5L347.5 227.6L348.8 227.6L350.2 227.7L351.6 227.7L353.0 227.7L354.4 227.8L355.8 227.8L357.2 227.9L358.5 227.9L359.9 227.9L361.3 228.0L362.7 228.0L364.1 228.0L365.5 228.0L366.8 228.1L368.2 228.1L369.6 228.1L371.0 228.1L372.4 228.1L373.8 228.1L375.1 228.1L376.5 228.1L377.9 228.1L379.3 228.1L380.7 228.1L382.1 228.1L383.4 228.1L384.8 228.1L386.2 228.1L387.6 228.1L389.0 228.1L390.4 228.1L391.8 228.1L393.1 228.1L394.5 228.1L395.9 228.1L397.3 228.1L398.7 228.1L400.1 228.1L401.4 228.0L402.8 228.0L404.2 228.0L405.6 228.0L407.0 228.0L408.4 228.0L409.7 228.0" stroke="#5252cc" stroke-width="0.9" fill="none"/>
<path transform="translate(65.1,251.45)" d="M-3.2-3.2H3.2V3.2H-3.2ZM0-3.2V3.2M-3.2 0H3.2" stroke="#5252cc" stroke-width="0.9" fill="none"/>
<path transform="translate(152.3,225.65)" d="M-3.2-3.2H3.2V3.2H-3.2ZM0-3.2V3.2M-3.2 0H3.2" stroke="#5252cc" stroke-width="0.9" fill="none"/>
<path transform="translate(239.5,218.38)" d="M-3.2-3.2H3.2V3.2H-3.2ZM0-3.2V3.2M-3.2 0H3.2" stroke="#5252cc" stroke-width="0.9" fill="none"/>
<path transform="translate(326.7,226.4)" d="M-3.2-3.2H3.2V3.2H-3.2ZM0-3.2V3.2M-3.2 0H3.2" stroke="#5252cc" stroke-width="0.9" fill="none"/>
<path transform="translate(413.9,227.9)" d="M-3.2-3.2H3.2V3.2H-3.2ZM0-3.2V3.2M-3.2 0H3.2" stroke="#5252cc" stroke-width="0.9" fill="none"/>
</g>
<g><path d="M67.8 92.8L69.2 93.9L70.5 95.1L71.9 96.3L73.3 97.5L74.6 98.7L76.0 99.9L77.4 101.1L78.7 102.2L80.1 103.4L81.4 104.6L82.8 105.8L84.2 106.9L85.5 108.1L86.9 109.2L88.3 110.4L89.6 111.5L91.0 112.7L92.3 113.8L93.7 115.0L95.1 116.1L96.4 117.2L97.8 118.3L99.2 119.4L100.5 120.5L101.9 121.6L103.2 122.7L104.6 123.8L106.0 124.8L107.3 125.9L108.7 127.0L110.1 128.0L111.4 129.0L112.8 130.1L114.2 131.1L115.5 132.1L116.9 133.1L118.2 134.1L119.6 135.0L121.0 136.0L122.3 137.0L123.7 137.9L125.1 138.8L126.4 139.8L127.8 140.7L129.1 141.6L130.5 142.4L131.9 143.3L133.2 144.1L134.6 145.0L135.9 145.8L137.3 146.6L138.7 147.4L140.0 148.2L141.4 149.0L142.8 149.7L144.1 150.4L145.5 151.2L146.9 151.9L148.2 152.6M156.4 156.3L157.8 156.9L159.1 157.4L160.5 158.0L161.8 158.5L163.2 159.0L164.6 159.5L165.9 159.9L167.3 160.4L168.7 160.8L170.0 161.3L171.4 161.7L172.7 162.1L174.1 162.5L175.5 162.9L176.8 163.3L178.2 163.6L179.6 164.0L180.9 164.3L182.3 164.7L183.6 165.0L185.0 165.3L186.4 165.6L187.7 165.9L189.1 166.2L190.4 166.5L191.8 166.8L193.2 167.0L194.5 167.3L195.9 167.6L197.3 167.8L198.6 168.1L200.0 168.3L201.4 168.5L202.7 168.8L204.1 169.0L205.4 169.2L206.8 169.5L208.2 169.7L209.5 169.9L210.9 170.1L212.2 170.3L213.6 170.6L215.0 170.8L216.3 171.0L217.7 171.2L219.1 171.4L220.4 171.7L221.8 171.9L223.2 172.1L224.5 172.3L225.9 172.5L227.2 172.8L228.6 173.0L230.0 173.3L231.3 173.5L232.7 173.7L234.1 174.0L235.4 174.2M243.6 175.9L244.9 176.2L246.3 176.5L247.7 176.8L249.0 177.1L250.4 177.5L251.8 177.8L253.1 178.1L254.5 178.5L255.9 178.8L257.2 179.2L258.6 179.5L259.9 179.9L261.3 180.2L262.7 180.6L264.0 181.0L265.4 181.3L266.8 181.7L268.1 182.1L269.5 182.5L270.8 182.8L272.2 183.2L273.6 183.6L274.9 184.0L276.3 184.4L277.7 184.8L279.0 185.2L280.4 185.6L281.7 186.0L283.1 186.4L284.5 186.8L285.8 187.1L287.2 187.5L288.6 187.9L289.9 188.3L291.3 188.7L292.6 189.1L294.0 189.5L295.4 189.9L296.7 190.3L298.1 190.7L299.5 191.1L300.8 191.5L302.2 191.9L303.5 192.3L304.9 192.7L306.3 193.0L307.6 193.4L309.0 193.8L310.4 194.2L311.7 194.5L313.1 194.9L314.4 195.3L315.8 195.6L317.2 196.0L318.5 196.3L319.9 196.7L321.3 197.0L322.6 197.4M330.9 199.3L332.2 199.6L333.6 199.9L335.0 200.2L336.4 200.5L337.8 200.8L339.2 201.1L340.5 201.3L341.9 201.6L343.3 201.9L344.7 202.1L346.1 202.4L347.5 202.6L348.8 202.9L350.2 203.1L351.6 203.4L353.0 203.6L354.4 203.8L355.8 204.1L357.2 204.3L358.5 204.5L359.9 204.7L361.3 204.9L362.7 205.2L364.1 205.4L365.5 205.6L366.8 205.8L368.2 206.0L369.6 206.2L371.0 206.3L372.4 206.5L373.8 206.7L375.1 206.9L376.5 207.1L377.9 207.3L379.3 207.4L380.7 207.6L382.1 207.8L383.4 208.0L384.8 208.1L386.2 208.3L387.6 208.5L389.0 208.6L390.4 208.8L391.8 208.9L393.1 209.1L394.5 209.3L395.9 209.4L397.3 209.6L398.7 209.7L400.1 209.9L401.4 210.0L402.8 210.2L404.2 210.3L405.6 210.5L407.0 210.6L408.4 210.8L409.7 210.9" stroke="#a6ca46" stroke-width="0.9" fill="none"/>
<g transform="translate(65.1,90.38)"><circle r="3.6" stroke="#a6ca46" stroke-width="0.9" fill="none"/><path d="M-2.55-2.55L2.55 2.55M-2.55 2.55L2.55-2.55" stroke="#a6ca46" stroke-width="0.9"/></g>
<g transform="translate(152.3,154.51)"><circle r="3.6" stroke="#a6ca46" stroke-width="0.9" fill="none"/><path d="M-2.55-2.55L2.55 2.55M-2.55 2.55L2.55-2.55" stroke="#a6ca46" stroke-width="0.9"/></g>
<g transform="translate(239.5,175.05)"><circle r="3.6" stroke="#a6ca46" stroke-width="0.9" fill="none"/><path d="M-2.55-2.55L2.55 2.55M-2.55 2.55L2.55-2.55" stroke="#a6ca46" stroke-width="0.9"/></g>
<g transform="translate(326.7,198.34)"><circle r="3.6" stroke="#a6ca46" stroke-width="0.9" fill="none"/><path d="M-2.55-2.55L2.55 2.55M-2.55 2.55L2.55-2.55" stroke="#a6ca46" stroke-width="0.9"/></g>
<g transform="translate(413.9,211.37)"><circle r="3.6" stroke="#a6ca46" stroke-width="0.9" fill="none"/><path d="M-2.55-2.55L2.55 2.55M-2.55 2.55L2.55-2.55" stroke="#a6ca46" stroke-width="0.9"/></g>
</g>
<g><path d="M69.2 135.2L70.5 136.1L71.9 137.0L73.3 137.9L74.6 138.8L76.0 139.7L77.4 140.6L78.7 141.5L80.1 142.4L81.4 143.3L82.8 144.2L84.2 145.1L85.5 146.0L86.9 146.8L88.3 147.7L89.6 148.6L91.0 149.4L92.3 150.3L93.7 151.2L95.1 152.0L96.4 152.9L97.8 153.7L99.2 154.5L100.5 155.4L101.9 156.2L103.2 157.0L104.6 157.8L106.0 158.6L107.3 159.4L108.7 160.2L110.1 160.9L111.4 161.7L112.8 162.5L114.2 163.2L115.5 164.0L116.9 164.7L118.2 165.4L119.6 166.1L121.0 166.8L122.3 167.5L123.7 168.2L125.1 168.9L126.4 169.5L127.8 170.2L129.1 170.8L130.5 171.4L131.9 172.0L133.2 172.6L134.6 173.2L135.9 173.8L137.3 174.4L138.7 174.9L140.0 175.4L141.4 175.9L142.8 176.5L144.1 176.9L145.5 177.4L146.9 177.9L148.2 178.3M156.4 180.7L157.8 181.0L159.1 181.3L160.5 181.6L161.8 181.9L163.2 182.2L164.6 182.4L165.9 182.7L167.3 182.9L168.7 183.2L170.0 183.4L171.4 183.6L172.7 183.8L174.1 183.9L175.5 184.1L176.8 184.3L178.2 184.4L179.6 184.5L180.9 184.7L182.3 184.8L183.6 184.9L185.0 185.0L186.4 185.1L187.7 185.2L189.1 185.3L190.4 185.3L191.8 185.4L193.2 185.5L194.5 185.5L195.9 185.6L197.3 185.6L198.6 185.7L200.0 185.7L201.4 185.7L202.7 185.7L204.1 185.8L205.4 185.8L206.8 185.8L208.2 185.8L209.5 185.8L210.9 185.8L212.2 185.9L213.6 185.9L215.0 185.9L216.3 185.9L217.7 185.9L219.1 185.9L220.4 185.9L221.8 185.9L223.2 185.9L224.5 185.9L225.9 186.0L227.2 186.0L228.6 186.0L230.0 186.0L231.3 186.1L232.7 186.1L234.1 186.1L235.4 186.2M243.6 186.5L244.9 186.6L246.3 186.7L247.7 186.8L249.0 186.9L250.4 187.0L251.8 187.1L253.1 187.2L254.5 187.3L255.9 187.4L257.2 187.6L258.6 187.7L259.9 187.8L261.3 188.0L262.7 188.1L264.0 188.3L265.4 188.4L266.8 188.6L268.1 188.8L269.5 188.9L270.8 189.1L272.2 189.3L273.6 189.5L274.9 189.7L276.3 189.8L277.7 190.0L279.0 190.2L280.4 190.4L281.7 190.6L283.1 190.8L284.5 191.1L285.8 191.3L287.2 191.5L288.6 191.7L289.9 191.9L291.3 192.2L292.6 192.4L294.0 192.6L295.4 192.9L296.7 193.1L298.1 193.3L299.5 193.6L300.8 193.8L302.2 194.1L303.5 194.3L304.9 194.6L306.3 194.8L307.6 195.1L309.0 195.3L310.4 195.6L311.7 195.9L313.1 196.1L314.4 196.4L315.8 196.7L317.2 196.9L318.5 197.2L319.9 197.5L321.3 197.7L322.6 198.0M330.9 199.7L332.2 200.0L333.6 200.3L335.0 200.5L336.4 200.8L337.8 201.1L339.2 201.4L340.5 201.7L341.9 202.0L343.3 202.3L344.7 202.6L346.1 202.9L347.5 203.1L348.8 203.4L350.2 203.7L351.6 204.0L353.0 204.3L354.4 204.6L355.8 204.9L357.2 205.2L358.5 205.5L359.9 205.8L361.3 206.1L362.7 206.4L364.1 206.7L365.5 207.0L366.8 207.3L368.2 207.6L369.6 207.9L371.0 208.2L372.4 208.5L373.8 208.8L375.1 209.1L376.5 209.4L377.9 209.7L379.3 210.0L380.7 210.3L382.1 210.6L383.4 210.9L384.8 211.2L386.2 211.5L387.6 211.8L389.0 212.1L390.4 212.4L391.8 212.7L393.1 213.0L394.5 213.3L395.9 213.6L397.3 214.0L398.7 214.3L400.1 214.6L401.4 214.9L402.8 215.2L404.2 215.5L405.6 215.8L407.0 216.1L408.4 216.4L409.7 216.7" stroke="#8c8c8c" stroke-width="0.9" fill="none"/>
<path transform="translate(65.1,132.46)" d="M0-4.2L4.2 2.4H-4.2ZM0-4.2V2.4" stroke="#8c8c8c" stroke-width="0.9" fill="none"/>
<path transform="translate(152.3,179.56)" d="M0-4.2L4.2 2.4H-4.2ZM0-4.2V2.4" stroke="#8c8c8c" stroke-width="0.9" fill="none"/>
<path transform="translate(239.5,186.32)" d="M0-4.2L4.2 2.4H-4.2ZM0-4.2V2.4" stroke="#8c8c8c" stroke-width="0.9" fill="none"/>
<path transform="translate(326.7,198.84)" d="M0-4.2L4.2 2.4H-4.2ZM0-4.2V2.4" stroke="#8c8c8c" stroke-width="0.9" fill="none"/>
<path transform="translate(413.9,217.63)" d="M0-4.2L4.2 2.4H-4.2ZM0-4.2V2.4" stroke="#8c8c8c" stroke-width="0.9" fill="none"/>
</g>
<g><path d="M69.2 176.5L70.5 177.4L71.9 178.4L73.3 179.3L74.6 180.2L76.0 181.1L77.4 182.0L78.7 182.9L80.1 183.8L81.4 184.7L82.8 185.5L84.2 186.4L85.5 187.3L86.9 188.2L88.3 189.1L89.6 189.9L91.0 190.8L92.3 191.6L93.7 192.5L95.1 193.3L96.4 194.1L97.8 195.0L99.2 195.8L100.5 196.6L101.9 197.4L103.2 198.2L104.6 199.0L106.0 199.7L107.3 200.5L108.7 201.2L110.1 202.0L111.4 202.7L112.8 203.4L114.2 204.2L115.5 204.9L116.9 205.5L118.2 206.2L119.6 206.9L121.0 207.5L122.3 208.2L123.7 208.8L125.1 209.4L126.4 210.0L127.8 210.6L129.1 211.1L130.5 211.7L131.9 212.2L133.2 212.7L134.6 213.2L135.9 213.7L137.3 214.2L138.7 214.6L140.0 215.1L141.4 215.5L142.8 215.9L144.1 216.3L145.5 216.6L146.9 217.0L148.2 217.3M156.4 218.8L157.8 219.0L159.1 219.1L160.5 219.3L161.8 219.4L163.2 219.5L164.6 219.6L165.9 219.7L167.3 219.8L168.7 219.8L170.0 219.9L171.4 219.9L172.7 219.9L174.1 219.9L175.5 219.9L176.8 219.8L178.2 219.8L179.6 219.7L180.9 219.7L182.3 219.6L183.6 219.5L185.0 219.4L186.4 219.3L187.7 219.2L189.1 219.1L190.4 219.0L191.8 218.9L193.2 218.7L194.5 218.6L195.9 218.5L197.3 218.3L198.6 218.2L200.0 218.0L201.4 217.9L202.7 217.7L204.1 217.6L205.4 217.4L206.8 217.2L208.2 217.1L209.5 216.9L210.9 216.8L212.2 216.6L213.6 216.4L215.0 216.3L216.3 216.2L217.7 216.0L219.1 215.9L220.4 215.7L221.8 215.6L223.2 215.5L224.5 215.4L225.9 215.2L227.2 215.1L228.6 215.0L230.0 215.0L231.3 214.9L232.7 214.8L234.1 214.8L235.4 214.7M243.6 214.7L244.9 214.7L246.3 214.7L247.7 214.8L249.0 214.9L250.4 214.9L251.8 215.0L253.1 215.1L254.5 215.2L255.9 215.3L257.2 215.5L258.6 215.6L259.9 215.7L261.3 215.9L262.7 216.0L264.0 216.2L265.4 216.3L266.8 216.5L268.1 216.7L269.5 216.9L270.8 217.1L272.2 217.3L273.6 217.5L274.9 217.7L276.3 217.9L277.7 218.1L279.0 218.3L280.4 218.5L281.7 218.7L283.1 218.9L284.5 219.2L285.8 219.4L287.2 219.6L288.6 219.8L289.9 220.1L291.3 220.3L292.6 220.5L294.0 220.7L295.4 221.0L296.7 221.2L298.1 221.4L299.5 221.6L300.8 221.9L302.2 222.1L303.5 222.3L304.9 222.5L306.3 222.7L307.6 222.9L309.0 223.1L310.4 223.3L311.7 223.5L313.1 223.7L314.4 223.8L315.8 224.0L317.2 224.2L318.5 224.3L319.9 224.5L321.3 224.6L322.6 224.8M330.9 225.4L332.2 225.5L333.6 225.6L335.0 225.7L336.4 225.7L337.8 225.8L339.2 225.8L340.5 225.8L341.9 225.9L343.3 225.9L344.7 225.9L346.1 225.9L347.5 225.9L348.8 225.9L350.2 225.8L351.6 225.8L353.0 225.8L354.4 225.8L355.8 225.7L357.2 225.7L358.5 225.6L359.9 225.5L361.3 225.5L362.7 225.4L364.1 225.3L365.5 225.2L366.8 225.1L368.2 225.0L369.6 224.9L371.0 224.8L372.4 224.7L373.8 224.6L375.1 224.5L376.5 224.4L377.9 224.3L379.3 224.1L380.7 224.0L382.1 223.9L383.4 223.7L384.8 223.6L386.2 223.4L387.6 223.3L389.0 223.1L390.4 223.0L391.8 222.8L393.1 222.7L394.5 222.5L395.9 222.4L397.3 222.2L398.7 222.0L400.1 221.9L401.4 221.7L402.8 221.5L404.2 221.4L405.6 221.2L407.0 221.0L408.4 220.8L409.7 220.7" stroke="#b86a60" stroke-width="0.9" fill="none"/>
<path transform="translate(65.1,173.8)" d="M0 4.4L4.3-2.5H-4.3ZM0 4.4V-5" stroke="#b86a60" stroke-width="0.9" fill="none"/>
<path transform="translate(152.3,218.13)" d="M0 4.4L4.3-2.5H-4.3ZM0 4.4V-5" stroke="#b86a60" stroke-width="0.9" fill="none"/>
<path transform="translate(239.5,214.63)" d="M0 4.4L4.3-2.5H-4.3ZM0 4.4V-5" stroke="#b86a60" stroke-width="0.9" fill="none"/>
<path transform="translate(326.7,225.15)" d="M0 4.4L4.3-2.5H-4.3ZM0 4.4V-5" stroke="#b86a60" stroke-width="0.9" fill="none"/>
<path transform="translate(413.9,220.14)" d="M0 4.4L4.3-2.5H-4.3ZM0 4.4V-5" stroke="#b86a60" stroke-width="0.9" fill="none"/>
</g>
<g><path d="M69.2 134.5L70.5 135.1L71.9 135.7L73.3 136.3L74.6 136.9L76.0 137.5L77.4 138.1L78.7 138.7L80.1 139.3L81.4 139.9L82.8 140.5L84.2 141.1L85.5 141.7L86.9 142.3L88.3 142.9L89.6 143.5L91.0 144.0L92.3 144.6L93.7 145.2L95.1 145.8L96.4 146.4L97.8 147.0L99.2 147.6L100.5 148.2L101.9 148.7L103.2 149.3L104.6 149.9L106.0 150.5L107.3 151.0L108.7 151.6L110.1 152.2L111.4 152.8L112.8 153.3L114.2 153.9L115.5 154.5L116.9 155.0L118.2 155.6L119.6 156.1L121.0 156.7L122.3 157.2L123.7 157.8L125.1 158.4L126.4 158.9L127.8 159.4L129.1 160.0L130.5 160.5L131.9 161.1L133.2 161.6L134.6 162.1L135.9 162.7L137.3 163.2L138.7 163.7L140.0 164.2L141.4 164.8L142.8 165.3L144.1 165.8L145.5 166.3L146.9 166.8L148.2 167.3M156.4 170.2L157.8 170.7L159.1 171.2L160.5 171.7L161.8 172.1L163.2 172.6L164.6 173.1L165.9 173.5L167.3 174.0L168.7 174.4L170.0 174.9L171.4 175.3L172.7 175.7L174.1 176.2L175.5 176.6L176.8 177.0L178.2 177.5L179.6 177.9L180.9 178.3L182.3 178.7L183.6 179.1L185.0 179.5L186.4 179.9L187.7 180.3L189.1 180.7L190.4 181.1L191.8 181.4L193.2 181.8L194.5 182.2L195.9 182.5L197.3 182.9L198.6 183.2L200.0 183.6L201.4 183.9L202.7 184.3L204.1 184.6L205.4 184.9L206.8 185.2L208.2 185.6L209.5 185.9L210.9 186.2L212.2 186.5L213.6 186.8L215.0 187.1L216.3 187.4L217.7 187.6L219.1 187.9L220.4 188.2L221.8 188.4L223.2 188.7L224.5 189.0L225.9 189.2L227.2 189.4L228.6 189.7L230.0 189.9L231.3 190.1L232.7 190.3L234.1 190.6L235.4 190.8M243.6 191.9L244.9 192.0L246.3 192.2L247.7 192.3L249.0 192.5L250.4 192.6L251.8 192.7L253.1 192.9L254.5 193.0L255.9 193.1L257.2 193.2L258.6 193.4L259.9 193.5L261.3 193.6L262.7 193.7L264.0 193.8L265.4 193.9L266.8 194.0L268.1 194.1L269.5 194.2L270.8 194.2L272.2 194.3L273.6 194.4L274.9 194.5L276.3 194.6L277.7 194.7L279.0 194.7L280.4 194.8L281.7 194.9L283.1 195.0L284.5 195.1L285.8 195.1L287.2 195.2L288.6 195.3L289.9 195.4L291.3 195.5L292.6 195.5L294.0 195.6L295.4 195.7L296.7 195.8L298.1 195.9L299.5 195.9L300.8 196.0L302.2 196.1L303.5 196.2L304.9 196.3L306.3 196.4L307.6 196.5L309.0 196.6L310.4 196.7L311.7 196.8L313.1 197.0L314.4 197.1L315.8 197.2L317.2 197.3L318.5 197.5L319.9 197.6L321.3 197.7L322.6 197.9M330.9 198.9L332.2 199.1L333.6 199.2L335.0 199.4L336.4 199.7L337.8 199.9L339.2 200.1L340.5 200.3L341.9 200.5L343.3 200.7L344.7 201.0L346.1 201.2L347.5 201.5L348.8 201.7L350.2 202.0L351.6 202.2L353.0 202.5L354.4 202.7L355.8 203.0L357.2 203.3L358.5 203.5L359.9 203.8L361.3 204.1L362.7 204.4L364.1 204.7L365.5 205.0L366.8 205.3L368.2 205.6L369.6 205.9L371.0 206.2L372.4 206.5L373.8 206.8L375.1 207.1L376.5 207.4L377.9 207.8L379.3 208.1L380.7 208.4L382.1 208.7L383.4 209.1L384.8 209.4L386.2 209.7L387.6 210.0L389.0 210.4L390.4 210.7L391.8 211.1L393.1 211.4L394.5 211.7L395.9 212.1L397.3 212.4L398.7 212.8L400.1 213.1L401.4 213.5L402.8 213.8L404.2 214.2L405.6 214.5L407.0 214.9L408.4 215.2L409.7 215.6" stroke="#4a9a4a" stroke-width="0.9" fill="none"/>
<g transform="translate(65.1,132.71)"><path d="M0-4.4L4.3 0L0 4.4L-4.3 0Z" stroke="#4a9a4a" stroke-width="0.9" fill="#fff"/><path d="M0-4.4L4.3 0H-4.3Z" fill="#4a9a4a"/></g>
<g transform="translate(152.3,168.79)"><path d="M0-4.4L4.3 0L0 4.4L-4.3 0Z" stroke="#4a9a4a" stroke-width="0.9" fill="#fff"/><path d="M0-4.4L4.3 0H-4.3Z" fill="#4a9a4a"/></g>
<g transform="translate(239.5,191.33)"><path d="M0-4.4L4.3 0L0 4.4L-4.3 0Z" stroke="#4a9a4a" stroke-width="0.9" fill="#fff"/><path d="M0-4.4L4.3 0H-4.3Z" fill="#4a9a4a"/></g>
<g transform="translate(326.7,198.34)"><path d="M0-4.4L4.3 0L0 4.4L-4.3 0Z" stroke="#4a9a4a" stroke-width="0.9" fill="#fff"/><path d="M0-4.4L4.3 0H-4.3Z" fill="#4a9a4a"/></g>
<g transform="translate(413.9,216.63)"><path d="M0-4.4L4.3 0L0 4.4L-4.3 0Z" stroke="#4a9a4a" stroke-width="0.9" fill="#fff"/><path d="M0-4.4L4.3 0H-4.3Z" fill="#4a9a4a"/></g>
</g>
<path d="M424 326.3H457.4" stroke="#3030c8" stroke-width="0.9"/>
<text font-size="13px" font-weight="bold" x="420.6" y="170">Additive effect</text>
<rect x="520.5" y="30" width="87.5" height="242" fill="#fff" stroke="none"/>
<path d="M520.5 30H608" stroke="#777" stroke-width="1"/><path d="M520.5 30V272" stroke="#222" stroke-width="1"/><path d="M520 272H609" stroke="#000" stroke-width="1.6"/><path d="M608.3 30V272" stroke="#000" stroke-width="1.6"/>
<g font-size="8.75px">
<path d="M528.2 40.8H548.4" stroke="#000000" stroke-width="0.9"/>
<rect transform="translate(538.3,40.8)" x="-3.5" y="-3.5" width="7" height="7" fill="#000000"/>
<text x="552.5" y="43.9">Pb*Gr</text>
<path d="M528.2 51.8H548.4" stroke="#ff3b3b" stroke-width="0.9"/>
<circle transform="translate(538.3,51.84)" r="3.6" stroke="#ff3b3b" stroke-width="0.9" fill="#fff"/>
<text x="552.5" y="55.0">Pb*Co</text>
<path d="M528.2 62.9H548.4" stroke="#4545d0" stroke-width="0.9"/>
<path transform="translate(538.3,62.89)" d="M0-4.2L4.2 2.4H-4.2Z" stroke="#4545d0" stroke-width="0.9" fill="#fff"/>
<text x="552.5" y="66.0">Pb*Ni</text>
<path d="M528.2 73.9H548.4" stroke="#ff38e8" stroke-width="0.9"/>
<path transform="translate(538.3,73.94)" d="M0 4.2L4.2-2.4H-4.2Z" stroke="#ff38e8" stroke-width="0.9" fill="#fff"/>
<text x="552.5" y="77.1">Gr*Co</text>
<path d="M528.2 85.0H548.4" stroke="#3fa24f" stroke-width="0.9"/>
<path transform="translate(538.3,84.98)" d="M0-4.7L4.5 0L0 4.7L-4.5 0ZM0-4.7V4.7M-4.5 0H4.5" stroke="#3fa24f" stroke-width="0.9" fill="#fff"/>
<text x="552.5" y="88.1">Gr*Ni</text>
<path d="M528.2 96.0H548.4" stroke="#3d3db0" stroke-width="0.9"/>
<path transform="translate(538.3,96.03)" d="M-4.7-4.7L4.7 4.7M-4.7 4.7L4.7-4.7M2.8-4.4V4.4L-4.8 0Z" stroke="#3d3db0" stroke-width="0.9" fill="none"/>
<text x="552.5" y="99.2">Co*Ni</text>
<path d="M528.2 107.1H548.4" stroke="#a53fe0" stroke-width="0.9"/>
<path transform="translate(538.3,107.07)" d="M4.4 0L-2.5-4V4Z" stroke="#a53fe0" stroke-width="0.9" fill="#fff"/>
<text x="552.5" y="110.2">Pb*Gr*Co</text>
<path d="M528.2 118.1H548.4" stroke="#b23fc4" stroke-width="0.9"/>
<g transform="translate(538.3,118.11)"><circle r="3.6" stroke="#b23fc4" stroke-width="0.9" fill="#fff"/><path d="M0-3.6V3.6M-3.6 0H3.6" stroke="#b23fc4" stroke-width="0.9"/></g>
<text x="552.5" y="121.3">Pb*Gr*Ni</text>
<path d="M528.2 129.2H548.4" stroke="#8a2252" stroke-width="0.9"/>
<polygon transform="translate(538.3,129.16)" points="0.0,-4.1 1.0,-1.4 3.9,-1.3 1.6,0.5 2.4,3.3 0.0,1.7 -2.4,3.3 -1.6,0.5 -3.9,-1.3 -1.0,-1.4" fill="#8a2252" stroke="#8a2252" stroke-width="0.5"/>
<text x="552.5" y="132.3">Pb*Co*Ni</text>
<path d="M528.2 140.2H548.4" stroke="#8f8f1c" stroke-width="0.9"/>
<g transform="translate(538.3,140.2)"><circle r="3.6" stroke="#8f8f1c" stroke-width="0.9" fill="#fff"/><path d="M0-3.6A3.6 3.6 0 0 1 0 3.6Z" fill="#8f8f1c"/></g>
<text x="552.5" y="143.4">Gr*Co*Ni</text>
<path d="M528.2 151.2H548.4" stroke="#3c78b4" stroke-width="0.9"/>
<g transform="translate(538.3,151.25)"><circle r="3.8" fill="url(#sph)"/></g>
<text x="552.5" y="154.4">Pb*Gr*Co*Ni</text>
<path d="M528.2 162.3H548.4" stroke="#4fd0c0" stroke-width="0.9"/>
<path transform="translate(538.3,162.3)" d="M0-3.6V3.6M-3.6 0H3.6" stroke="#4fd0c0" stroke-width="0.9"/>
<text x="552.5" y="165.4">Pb*Grh</text>
<path d="M528.2 173.3H548.4" stroke="#c49a6c" stroke-width="0.9"/>
<path transform="translate(538.3,173.34)" d="M-3.6-3.6L3.6 3.6M-3.6 3.6L3.6-3.6" stroke="#c49a6c" stroke-width="0.9"/>
<text x="552.5" y="176.5">Pb*Coh</text>
<path d="M528.2 184.4H548.4" stroke="#45dd66" stroke-width="0.9"/>
<path transform="translate(538.3,184.38)" d="M0-4.2V4.2M-3.8-2.4L3.8 2.4M-3.8 2.4L3.8-2.4" stroke="#45dd66" stroke-width="0.9"/>
<text x="552.5" y="187.5">Pb*Nih</text>
<path d="M528.2 195.4H548.4" stroke="#ee4590" stroke-width="0.9"/>
<path transform="translate(538.3,195.43)" d="M-3.6 0H3.6" stroke="#ee4590" stroke-width="0.9"/>
<text x="552.5" y="198.6">Gr*Coh</text>
<path d="M528.2 206.5H548.4" stroke="#55d8cc" stroke-width="0.9"/>
<path transform="translate(538.3,206.48)" d="M0-3.6V3.6" stroke="#55d8cc" stroke-width="0.9"/>
<text x="552.5" y="209.6">Gr*Nih</text>
<path d="M528.2 217.5H548.4" stroke="#5252cc" stroke-width="0.9"/>
<path transform="translate(538.3,217.52)" d="M-3.2-3.2H3.2V3.2H-3.2ZM0-3.2V3.2M-3.2 0H3.2" stroke="#5252cc" stroke-width="0.9" fill="#fff"/>
<text x="552.5" y="220.7">Co*Ni</text>
<path d="M528.2 228.6H548.4" stroke="#a6ca46" stroke-width="0.9"/>
<g transform="translate(538.3,228.56)"><circle r="3.6" stroke="#a6ca46" stroke-width="0.9" fill="#fff"/><path d="M-2.55-2.55L2.55 2.55M-2.55 2.55L2.55-2.55" stroke="#a6ca46" stroke-width="0.9"/></g>
<text x="552.5" y="231.7">Pb*Gr*Coh</text>
<path d="M528.2 239.6H548.4" stroke="#8c8c8c" stroke-width="0.9"/>
<path transform="translate(538.3,239.61)" d="M0-4.2L4.2 2.4H-4.2ZM0-4.2V2.4" stroke="#8c8c8c" stroke-width="0.9" fill="#fff"/>
<text x="552.5" y="242.8">Pb*Gr*Nih</text>
<path d="M528.2 250.7H548.4" stroke="#b86a60" stroke-width="0.9"/>
<path transform="translate(538.3,250.65)" d="M0 4.4L4.3-2.5H-4.3ZM0 4.4V-5" stroke="#b86a60" stroke-width="0.9" fill="#fff"/>
<text x="552.5" y="253.8">Pb*Co*Nih</text>
<path d="M528.2 261.7H548.4" stroke="#4a9a4a" stroke-width="0.9"/>
<g transform="translate(538.3,261.7)"><path d="M0-4.4L4.3 0L0 4.4L-4.3 0Z" stroke="#4a9a4a" stroke-width="0.9" fill="#fff"/><path d="M0-4.4L4.3 0H-4.3Z" fill="#4a9a4a"/></g>
<text x="552.5" y="264.8">Gr*Co*Nih</text>
</g>
</svg></body></html>
